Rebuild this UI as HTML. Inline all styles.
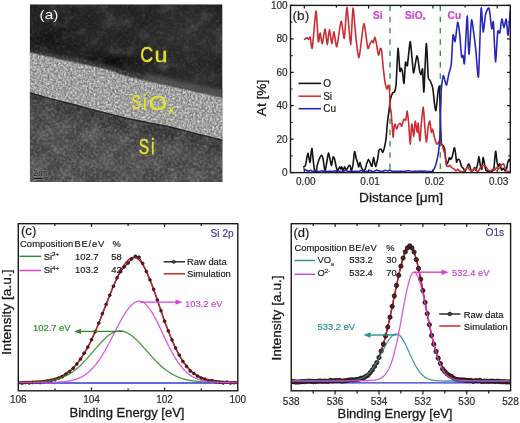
<!DOCTYPE html>
<html><head><meta charset="utf-8"><title>Figure</title>
<style>
html,body{margin:0;padding:0;background:#fff;}
body{width:520px;height:423px;overflow:hidden;}
svg{display:block;filter:blur(0.35px);}
text.st,.st text{transform-box:fill-box;transform-origin:50% 65%;transform:scaleY(1.04);}
text.tk{transform-box:fill-box;transform-origin:50% 65%;transform:scaleY(1.08);}
</style></head><body>
<svg width="520" height="423" viewBox="0 0 520 423">
<rect width="520" height="423" fill="#fff"/>
<defs>
<clipPath id="temclip"><rect x="29.8" y="4.3" width="192.7" height="177.6"/></clipPath>
<filter id="spW" x="0" y="0" width="1" height="1" filterUnits="objectBoundingBox"><feTurbulence type="fractalNoise" baseFrequency="0.48" numOctaves="2" seed="3"/><feColorMatrix type="matrix" values="0 0 0 0 1  0 0 0 0 1  0 0 0 0 1  2.6 0 0 0 -1.2"/><feGaussianBlur stdDeviation="0.4"/></filter>
<filter id="spK" x="0" y="0" width="1" height="1" filterUnits="objectBoundingBox"><feTurbulence type="fractalNoise" baseFrequency="0.48" numOctaves="2" seed="3"/><feColorMatrix type="matrix" values="0 0 0 0 0  0 0 0 0 0  0 0 0 0 0  -2.6 0 0 0 1.2"/><feGaussianBlur stdDeviation="0.4"/></filter>
<filter id="lowW" x="0" y="0" width="1" height="1" filterUnits="objectBoundingBox"><feTurbulence type="fractalNoise" baseFrequency="0.07" numOctaves="3" seed="11"/><feColorMatrix type="matrix" values="0 0 0 0 1  0 0 0 0 1  0 0 0 0 1  1.6 0 0 0 -0.78"/></filter>
<filter id="lowK" x="0" y="0" width="1" height="1" filterUnits="objectBoundingBox"><feTurbulence type="fractalNoise" baseFrequency="0.07" numOctaves="3" seed="11"/><feColorMatrix type="matrix" values="0 0 0 0 0  0 0 0 0 0  0 0 0 0 0  -1.6 0 0 0 0.78"/></filter>
<filter id="midW" x="0" y="0" width="1" height="1" filterUnits="objectBoundingBox"><feTurbulence type="fractalNoise" baseFrequency="0.35" numOctaves="2" seed="21"/><feColorMatrix type="matrix" values="0 0 0 0 1  0 0 0 0 1  0 0 0 0 1  1.4 0 0 0 -0.66"/></filter>
<filter id="midK" x="0" y="0" width="1" height="1" filterUnits="objectBoundingBox"><feTurbulence type="fractalNoise" baseFrequency="0.35" numOctaves="2" seed="21"/><feColorMatrix type="matrix" values="0 0 0 0 0  0 0 0 0 0  0 0 0 0 0  -1.4 0 0 0 0.74"/></filter>
<filter id="blur1" x="-0.2" y="-0.5" width="1.4" height="2"><feGaussianBlur stdDeviation="1.5"/></filter>
<filter id="blur2" x="-0.2" y="-0.5" width="1.4" height="2"><feGaussianBlur stdDeviation="2"/></filter>
<filter id="blur4" x="-0.2" y="-0.5" width="1.4" height="2"><feGaussianBlur stdDeviation="4"/></filter>
<radialGradient id="cuDark" cx="0.5" cy="0.5" r="0.5"><stop offset="0" stop-color="#080808" stop-opacity="0.85"/><stop offset="1" stop-color="#080808" stop-opacity="0"/></radialGradient>
<radialGradient id="cuLight" cx="0.5" cy="0.5" r="0.5"><stop offset="0" stop-color="#3a3a3a" stop-opacity="0.7"/><stop offset="1" stop-color="#3a3a3a" stop-opacity="0"/></radialGradient>
</defs>
<clipPath id="bandclip"><polygon points="29.5,51.8 60,58.8 90,65.2 110,69.8 125,75.2 145,80 170,85.6 195,91.2 222.5,97.2 222.5,139.8 192.9,132.4 169,126.3 146.8,122 127.8,118.1 108.9,113.4 90,108.6 75.3,104.5 51.6,98.6 29.5,92.2"/></clipPath>
<clipPath id="siclip"><polygon points="29.5,92.2 51.6,98.6 75.3,104.5 90,108.6 108.9,113.4 127.8,118.1 146.8,122 169,126.3 192.9,132.4 222.5,139.8 222.5,181.9 29.8,181.9"/></clipPath>
<clipPath id="cuclip"><polygon points="29.8,4.3 222.5,4.3 222.5,97.2 195,91.2 170,85.6 145,80 125,75.2 110,69.8 90,65.2 60,58.8 29.5,51.8"/></clipPath>
<g clip-path="url(#temclip)">
<rect x="29.8" y="4.3" width="192.7" height="177.6" fill="#232323"/>
<ellipse cx="185" cy="35" rx="55" ry="40" fill="url(#cuLight)"/>
<ellipse cx="200" cy="80" rx="35" ry="14" fill="url(#cuLight)"/>
<ellipse cx="108" cy="62" rx="34" ry="13" fill="url(#cuDark)"/>
<ellipse cx="48" cy="40" rx="38" ry="22" fill="url(#cuDark)" opacity="0.55"/>
<ellipse cx="112" cy="26" rx="30" ry="24" fill="url(#cuLight)" opacity="0.45"/>
<g clip-path="url(#cuclip)" opacity="0.2"><rect x="29.8" y="4.3" width="192.7" height="177.6" filter="url(#lowW)"/><rect x="29.8" y="4.3" width="192.7" height="177.6" filter="url(#lowK)"/></g>
<g clip-path="url(#cuclip)" opacity="0.18"><rect x="29.8" y="4.3" width="192.7" height="177.6" filter="url(#midW)"/></g>
<polygon points="29.5,48.8 60,55.1 90,60.8 110,64.9 125,70 145,74.3 170,79.3 195,84.3 222.5,89.7 222.5,92.7 195,87.1 170,81.8 145,76.6 125,72.1 110,66.9 90,62.6 60,56.6 29.5,50" fill="#2e2e2e" filter="url(#blur1)"/>
<polygon points="29.5,50 60,56.6 90,62.6 110,66.9 125,72.1 145,76.6 170,81.8 195,87.1 222.5,92.7 222.5,95 195,89.2 170,83.8 145,78.3 125,73.7 110,68.4 90,63.9 60,57.7 29.5,50.9" fill="#3c3c3c" filter="url(#blur1)"/>
<polygon points="29.5,50.9 60,57.7 90,63.9 110,68.4 125,73.7 145,78.3 170,83.8 195,89.2 222.5,95 222.5,97.7 195,91.7 170,86 145,80.4 125,75.5 110,70.1 90,65.5 60,59 29.5,52" fill="#4c4c4c" filter="url(#blur1)"/>
<clipPath id="transclip"><polygon points="29.5,48.8 60,55.1 90,60.8 110,64.9 125,70 145,74.3 170,79.3 195,84.3 222.5,89.7 222.5,97.7 195,91.7 170,86 145,80.4 125,75.5 110,70.1 90,65.5 60,59 29.5,52"/></clipPath>
<g clip-path="url(#transclip)" opacity="0.2"><rect x="29.8" y="4.3" width="192.7" height="177.6" filter="url(#spW)"/></g>
<polygon points="145,73 170,78.6 195,84.2 222.5,90.2 222.5,98.2 195,92.2 170,86.6 145,81" fill="#565656" opacity="0.8" filter="url(#blur2)"/>
<polygon points="29.5,92.2 51.6,98.6 75.3,104.5 90,108.6 108.9,113.4 127.8,118.1 146.8,122 169,126.3 192.9,132.4 222.5,139.8 222.5,181.9 29.8,181.9" fill="#515151"/>
<g clip-path="url(#siclip)">
<polygon points="29.5,93.2 51.6,99.6 75.3,105.5 90,109.6 108.9,114.4 127.8,119.1 146.8,123 169,127.3 192.9,133.4 222.5,140.8 222.5,151.8 192.9,144.4 169,138.3 146.8,134 127.8,130.1 108.9,125.4 90,120.6 75.3,116.5 51.6,110.6 29.5,104.2" fill="#2a2a2a" opacity="0.6" filter="url(#blur4)"/>
<g opacity="0.22"><rect x="29.8" y="4.3" width="192.7" height="177.6" filter="url(#lowW)"/><rect x="29.8" y="4.3" width="192.7" height="177.6" filter="url(#lowK)"/></g>
<g opacity="0.35"><rect x="29.8" y="4.3" width="192.7" height="177.6" filter="url(#midW)"/><rect x="29.8" y="4.3" width="192.7" height="177.6" filter="url(#midK)"/></g>
</g>
<polygon points="29.5,51.8 60,58.8 90,65.2 110,69.8 125,75.2 145,80 170,85.6 195,91.2 222.5,97.2 222.5,139.8 192.9,132.4 169,126.3 146.8,122 127.8,118.1 108.9,113.4 90,108.6 75.3,104.5 51.6,98.6 29.5,92.2" fill="#9a9a9a"/>
<g clip-path="url(#bandclip)"><rect x="29.8" y="4.3" width="192.7" height="177.6" filter="url(#spW)" opacity="0.7"/><rect x="29.8" y="4.3" width="192.7" height="177.6" filter="url(#spK)" opacity="0.35"/></g>
<polyline points="29.5,92.7 51.6,99.1 75.3,105 90,109.1 108.9,113.9 127.8,118.6 146.8,122.5 169,126.8 192.9,132.9 222.5,140.3" fill="none" stroke="#1e1e1e" stroke-width="1.4" opacity="0.85"/>
<polyline points="29.5,52.1 60,59.1 90,65.5 110,70.1 125,75.5 145,80.3 170,85.9 195,91.5 222.5,97.5" fill="none" stroke="#3a3a3a" stroke-width="1.2" opacity="0.5"/>
</g>
<text transform="translate(39.6,18.8) scale(1.1,0.94)" font-size="14" fill="#f2f2f2" stroke="none" font-family="Liberation Sans, Arial, sans-serif">(a)</text>
<text transform="translate(140.2,61.59) scale(0.8543,1.0129)" font-size="21" fill="#e4e22a" stroke="#e4e22a" stroke-width="0.35" font-family="Liberation Sans, Arial, sans-serif">C</text>
<text transform="translate(154.49,61.59) scale(1.1090,0.9967)" font-size="21" fill="#e4e22a" stroke="#e4e22a" stroke-width="0.35" font-family="Liberation Sans, Arial, sans-serif">u</text>
<text transform="translate(131.54,109.4) scale(0.6957,0.9457)" font-size="21" fill="#e4e22a" stroke="#e4e22a" stroke-width="0.35" font-family="Liberation Sans, Arial, sans-serif">S</text>
<text transform="translate(143.09,110.1) scale(0.7410,1.0638)" font-size="21" fill="#e4e22a" stroke="#e4e22a" stroke-width="0.35" font-family="Liberation Sans, Arial, sans-serif">i</text>
<text transform="translate(149.06,109.7) scale(1.0986,0.9590)" font-size="21" fill="#e4e22a" stroke="#e4e22a" stroke-width="0.35" font-family="Liberation Sans, Arial, sans-serif">O</text>
<text transform="translate(168.2,114.4) scale(0.6190,0.6190)" font-size="21" fill="#e4e22a" stroke="#e4e22a" stroke-width="0.35" font-family="Liberation Sans, Arial, sans-serif">x</text>
<text transform="translate(138.7,154.18) scale(0.7452,1.0262)" font-size="21" fill="#e4e22a" stroke="#e4e22a" stroke-width="0.35" font-family="Liberation Sans, Arial, sans-serif">S</text>
<text transform="translate(150.89,154.4) scale(0.7410,1.0376)" font-size="21" fill="#e4e22a" stroke="#e4e22a" stroke-width="0.35" font-family="Liberation Sans, Arial, sans-serif">i</text>
<line x1="33.6" y1="178.4" x2="42.8" y2="178.4" stroke="#bbb" stroke-width="2.6" opacity="0.6"/>
<line x1="33.6" y1="178.4" x2="42.8" y2="178.4" stroke="#111" stroke-width="1.4"/>
<text transform="translate(33.4,176.4) scale(0.85,1.15)" font-size="7.6" fill="#1a1a1a" stroke="#aaa" stroke-width="1.2" stroke-opacity="0.5" paint-order="stroke" font-family="Liberation Sans, Arial, sans-serif">2 nm</text>
<defs><clipPath id="bclip"><rect x="290.5" y="4.4" width="219.8" height="168.2"/></clipPath></defs>
<line x1="390.0" y1="5.4" x2="390.0" y2="172.6" stroke="#3f9248" stroke-width="1.4" stroke-dasharray="5.5 5.8"/>
<line x1="440.3" y1="5.4" x2="440.3" y2="172.6" stroke="#3f9248" stroke-width="1.4" stroke-dasharray="5.5 5.8"/>
<g clip-path="url(#bclip)" fill="none" stroke-linejoin="round" stroke-linecap="round">
<path d="M303.8,166.9C304,166.7 305,166.5 305.4,165.4C305.8,164.3 306.6,159.1 306.9,157.7C307.2,156.3 307.8,153.1 308,153.1C308.2,153.1 308.7,156.6 308.9,157.7C309.1,158.8 309.7,162.8 310,162.3C310.3,161.8 310.9,154.7 311.1,153.1C311.3,151.5 311.8,147.8 312,148.5C312.2,149.2 312.8,156.6 313.1,159.2C313.4,161.8 314.2,169.4 314.6,170.8C315,172.2 315.9,172.1 316.2,171.5C316.5,170.9 316.8,166.8 317.2,165.4C317.6,164 318.7,160.4 319.2,159.2C319.7,158 321,155.4 321.5,155.4C322,155.4 322.7,157.4 323.1,159.2C323.5,161 324.5,170.3 324.9,170.8C325.3,171.3 326.1,165.9 326.5,163.8C326.9,161.7 328.1,153.6 328.5,153.1C328.9,152.6 329.6,157.8 330,159.2C330.4,160.6 331.1,165.7 331.5,165.4C331.9,165.1 332.7,157.6 333.1,156.9C333.5,156.2 334.2,158 334.6,159.2C335,160.4 335.8,165.5 336.2,166.9C336.6,168.3 337.3,170.8 337.7,170.8C338.1,170.8 339.3,167.1 339.7,166.9C340.1,166.7 340.6,169.2 340.8,169.2C341,169.2 341.5,166.7 341.8,166.9C342.1,167.1 342.8,170.8 343.1,170.8C343.4,170.8 344.2,167 344.6,166.9C345,166.8 345.7,170.1 346.2,170C346.7,169.9 348.1,166.7 348.5,166.2C348.9,165.7 349.6,164.9 350,165.4C350.4,165.9 351.1,171 351.5,170.8C351.9,170.6 352.7,166.1 353.1,163.8C353.5,161.5 354.2,152.1 354.6,151.5C355,150.9 355.8,157.1 356.2,158.5C356.6,159.9 357.4,162.1 357.7,163.1C358,164.1 358.5,167 358.8,166.9C359.1,166.8 359.7,162.3 360,162.3C360.3,162.3 360.9,166.1 361.2,166.9C361.5,167.7 362,168.7 362.3,169.2C362.6,169.7 363.4,170.9 363.8,170.8C364.2,170.7 365,169.4 365.4,168.5C365.8,167.6 366.5,164.2 366.9,163.1C367.3,162 368.1,159.3 368.5,159.2C368.9,159.1 369.6,161.6 370,162.4C370.4,163.2 371.6,167 372,166.4C372.4,165.8 373.2,157.3 373.6,157.3C374,157.3 375.1,166.2 375.6,166.4C376.1,166.6 377.2,161.2 377.6,159.3C378,157.4 378.6,151.5 379,150.3C379.4,149.1 380.7,149.1 381.1,149.3C381.5,149.5 382.3,152.5 382.7,152.3C383.1,152.1 384.1,148.9 384.5,147.3C384.9,145.7 385.7,141.4 386.1,138.2C386.5,135 387.3,123.5 387.7,120.2C388.1,116.9 388.8,112.5 389.1,110.1C389.4,107.7 390,101.4 390.4,99.4C390.8,97.4 392.2,93.7 392.7,92.8C393.2,91.9 394.2,92.8 394.6,91.8C395,90.8 395.7,89.4 396.1,84.3C396.5,79.2 397.6,50 398,48.4C398.4,46.8 399.5,68.7 399.9,71C400.3,73.3 400.9,68.1 401.2,68.2C401.5,68.3 402.2,70.2 402.5,72C402.8,73.8 403.6,84.4 404,83.3C404.4,82.2 405.1,64.6 405.5,62.5C405.9,60.4 406.9,67.8 407.4,65.4C407.9,63 409.6,42.6 410.1,41.7C410.6,40.8 411.6,54.2 412,57.8C412.4,61.4 413.1,72.2 413.5,72.9C413.9,73.6 415,65.5 415.4,63.5C415.8,61.5 416.6,56.2 416.9,55.9C417.2,55.6 417.9,58.9 418.2,60.6C418.5,62.3 419.2,68.4 419.5,70.1C419.8,71.8 420.6,74.9 421,74.8C421.4,74.7 422.3,67.1 422.6,69.1C422.9,71.1 423.5,94.8 423.9,91.8C424.3,88.8 425.8,45.4 426.3,43.6C426.8,41.8 427.8,72.4 428.2,76.7C428.6,81 429.7,79.5 430.1,80.5C430.5,81.5 431.6,83.9 432,85.2C432.4,86.5 432.9,89.1 433.2,91.3C433.5,93.5 434.2,101.8 434.5,104C434.8,106.2 435.6,111.9 436,110.4C436.4,108.9 437.7,94 438.1,91.3C438.5,88.6 439.4,84.5 439.6,87C439.8,89.5 440,107.1 440.2,112.6C440.4,118.1 440.8,130.2 440.9,133.8C441,137.4 441.1,142 441.3,143.4C441.5,144.8 442.6,144.9 443,145.5C443.4,146.1 444.2,147.5 444.5,148.7C444.8,149.9 445.1,154 445.3,155.8C445.5,157.6 446.2,163.1 446.5,163.8C446.8,164.5 447.7,162.8 448,162.1C448.3,161.4 449.1,157.9 449.4,157.6C449.7,157.3 450.3,159.6 450.7,159.4C451.1,159.2 452.1,157.2 452.5,155.8C452.9,154.4 453.9,148 454.3,147.7C454.7,147.4 455.2,151.4 455.5,153.1C455.8,154.8 456.3,161.4 456.6,162.1C456.9,162.8 457.5,159.6 457.9,159.4C458.3,159.2 459.3,159.5 459.7,160.3C460.1,161.1 461.1,165.6 461.5,166.5C461.9,167.4 462.9,167.8 463.3,168.3C463.7,168.8 464.7,171.1 465.1,171C465.5,170.9 466.5,168.2 466.9,167.4C467.3,166.6 468.3,163.9 468.7,163.8C469.1,163.7 469.6,165.7 469.9,166.5C470.2,167.3 471,170.6 471.4,171C471.8,171.4 472.8,170.5 473.2,170.1C473.6,169.7 474.3,167.4 474.6,167.4C474.9,167.4 475.5,170.5 475.9,170.1C476.3,169.7 477.3,165.4 477.7,163.8C478.1,162.2 478.6,156.5 478.9,156.7C479.2,156.9 480.1,164.1 480.4,165.6C480.7,167.1 481.5,170.1 481.8,169.2C482.1,168.3 482.8,158.3 483.1,157.6C483.4,156.9 484,161.4 484.3,162.9C484.6,164.4 485.4,169.2 485.8,170.1C486.2,171 487.2,170.8 487.6,171C488,171.2 488.9,171.9 489.4,171.9C489.9,171.9 491.6,171.3 492.1,171C492.6,170.7 493.4,171.5 493.8,169.2C494.2,166.9 495.2,152.2 495.6,151.3C496,150.4 496.6,159.4 496.9,161.2C497.2,163 498,166.2 498.3,166.5C498.6,166.8 499.4,163.4 499.8,163.8C500.2,164.2 501.2,169.6 501.6,170.1C502,170.6 503,168.2 503.4,168.3C503.8,168.4 504.8,170.9 505.2,171C505.6,171.1 506.1,170.1 506.4,169.2C506.7,168.3 507.4,164 507.7,162.9C508,161.8 508.8,159.6 509.1,159.4C509.4,159.2 509.9,161 510,161.2" stroke="#141414" stroke-width="1.6"/>
<path d="M304.5,39.4C304.8,39.2 306.5,37.9 307,37.9C307.5,37.9 308.3,39.5 308.7,39.4C309.1,39.3 309.8,36.2 310.2,37.2C310.6,38.2 311.6,50.9 312.3,47.9C313,44.9 315.3,11.8 316,11.1C316.7,10.4 317.8,38.9 318.3,41.5C318.8,44.1 319.7,32.8 320.2,33C320.7,33.2 321.7,44.1 322.3,43.6C322.9,43.1 324.5,28.6 325.1,28.7C325.7,28.8 326.7,44.6 327.2,44.7C327.7,44.8 328.9,29.9 329.4,29.8C329.9,29.7 331.4,43.4 331.9,43.6C332.4,43.8 333.4,31.5 334,31.9C334.6,32.3 336,48 336.8,46.8C337.6,45.6 340.2,22.3 341.1,21.3C342,20.3 343.6,39.9 344.3,38.3C345,36.7 346.3,6.7 347,7.4C347.7,8.1 349.9,44.6 350.6,44.7C351.3,44.8 352.4,8.8 353,8.1C353.6,7.4 355.3,32.5 356,38.3C356.7,44.1 358.2,59.1 359.1,57.4C360,55.7 362.8,24.9 363.8,23.8C364.8,22.7 367,45.6 367.7,47.9C368.4,50.2 369.5,44.4 370,43.6C370.5,42.8 371.5,40.9 371.9,40.8C372.3,40.7 373.1,43.1 373.4,42.7C373.7,42.3 374.4,37 374.7,37C375,37 375.8,40.2 376.2,42.3C376.6,44.4 378,54.3 378.5,55C379,55.7 380,48.8 380.4,48.4C380.8,48 381.4,49 381.7,51.2C382,53.4 382.8,63.7 383.2,67.3C383.6,70.9 384.7,79.9 385.1,82.4C385.5,84.9 386.6,88.7 387,89C387.4,89.3 388,85 388.3,85.2C388.6,85.4 389.3,88.5 389.5,90.9C389.7,93.3 389.9,103.6 390.1,106.1C390.3,108.6 390.9,110 391.1,112.1C391.3,114.2 391.9,121.3 392.1,124.2C392.3,127.1 392.9,136.8 393.1,137.2C393.3,137.5 393.9,128.7 394.1,127.2C394.3,125.7 394.8,124 395.1,124.2C395.4,124.4 396.1,129.1 396.5,129.2C396.9,129.3 397.7,125.9 398.1,125.2C398.5,124.5 399.8,123.1 400.2,123.2C400.6,123.3 401.4,126.7 401.8,126.2C402.2,125.7 403.3,119.8 403.8,119.1C404.3,118.4 405.4,121.1 405.8,120.2C406.2,119.3 406.9,110.9 407.2,111.1C407.5,111.3 408.2,118.3 408.6,122.2C409,126.1 409.8,144.1 410.2,144.3C410.6,144.5 411.4,125.1 411.8,124.2C412.2,123.3 413.4,136.5 413.8,136.2C414.2,135.8 414.8,121.7 415.2,121.2C415.6,120.7 416.8,132 417.2,132.2C417.6,132.4 417.9,122.1 418.2,123.2C418.5,124.3 419.4,141.2 419.8,141.3C420.2,141.4 420.9,128.2 421.3,124.2C421.7,120.2 422.9,107 423.3,107.1C423.7,107.2 424.3,121.1 424.7,125.2C425.1,129.3 425.9,142.2 426.3,142.3C426.7,142.4 427.9,128.7 428.3,126.2C428.7,123.7 429.5,120.5 429.9,121.2C430.2,121.9 431,131.3 431.3,132.2C431.6,133.1 432.4,128.8 432.7,129.2C433,129.5 433.5,133.7 433.9,135.2C434.3,136.7 435.5,141.2 435.9,142.3C436.3,143.4 436.9,144.4 437.3,144.3C437.7,144.2 438.8,141.4 439.3,141.3C439.8,141.2 441,142.6 441.4,143.3C441.8,144 442.5,146.4 442.8,147.3C443.1,148.2 443.7,150.2 444,151.3C444.3,152.4 445.1,154.7 445.4,156.3C445.7,157.9 446,164.2 446.4,165.4C446.8,166.6 448,166.4 448.4,166.4C448.8,166.4 449.6,165.3 450,165.4C450.4,165.5 451.1,167 451.6,167.4C452.1,167.8 453.8,168.8 454.3,169.2C454.8,169.6 455.7,171 456.1,171C456.5,171 457.5,169.2 457.9,169.2C458.3,169.2 459.2,170.7 459.7,171C460.2,171.3 461.7,172.1 462.4,171.9C463.1,171.7 465.4,169.8 466,169.2C466.6,168.6 467.4,166.5 467.8,166.5C468.2,166.5 468.8,168.7 469.2,169.2C469.6,169.7 470.5,170.9 471,171C471.5,171.1 472.7,170.4 473.2,170.1C473.7,169.8 474.8,168.1 475.3,168.3C475.8,168.5 477.1,172 477.7,171.9C478.3,171.8 479.8,168.1 480.4,167.4C481,166.7 482.5,165.7 483.1,165.6C483.7,165.5 485.3,166.1 485.8,166.5C486.3,166.9 487.1,168.7 487.6,169.2C488.1,169.7 489.7,171 490.3,171C490.9,171 492.5,169.3 493,169.2C493.5,169.1 494.3,170.3 494.7,170.1C495.1,169.9 496.1,167.5 496.5,167.4C496.9,167.3 497.9,169.3 498.3,169.2C498.7,169.1 499.7,167 500.1,166.5C500.5,166 501.5,165 501.9,164.7C502.3,164.4 503.3,163.4 503.7,163.8C504.1,164.2 504.8,167.5 505.2,168.3C505.6,169.1 506.5,170.6 507,171C507.5,171.4 508.9,171.5 509.1,171.6" stroke="#cc2c34" stroke-width="1.6"/>
<path d="M304,168.8C304.3,169 305.7,170 306.2,170.3C306.7,170.6 307.9,171.2 308.4,171.2C308.9,171.2 310.1,170.2 310.6,170.2C311.1,170.3 312.3,171.5 312.8,171.5C313.3,171.5 314.5,170.3 315,170.2C315.5,170.2 316.7,170.8 317.2,170.9C317.7,171.1 318.9,171.5 319.4,171.5C319.9,171.5 321.1,170.8 321.6,170.8C322.1,170.8 323.3,171.2 323.8,171.3C324.3,171.4 325.5,171.3 326,171.4C326.5,171.4 327.7,171.5 328.2,171.4C328.7,171.4 329.9,171.1 330.4,171.2C330.9,171.2 332.1,171.5 332.6,171.5C333.1,171.5 334.3,170.9 334.8,170.8C335.3,170.8 336.5,171.3 337,171.4C337.5,171.4 338.7,171.2 339.2,171.2C339.7,171.2 340.9,171.5 341.4,171.6C341.9,171.6 343.1,171.5 343.6,171.4C344.1,171.2 345.3,170.3 345.8,170.3C346.3,170.3 347.5,171.5 348,171.6C348.5,171.7 349.7,171.3 350.2,171.2C350.7,171.2 351.9,171.5 352.4,171.5C352.9,171.5 354.1,171.3 354.6,171.3C355.1,171.3 356.3,171.4 356.8,171.4C357.3,171.4 358.5,171.5 359,171.4C359.5,171.3 360.7,170.4 361.2,170.4C361.7,170.4 362.9,171.5 363.4,171.6C363.9,171.7 365.1,171.5 365.6,171.5C366.1,171.4 367.3,171.3 367.8,171.2C368.3,171.1 369.5,170.4 370,170.4C370.5,170.4 371.7,171.4 372.2,171.5C372.7,171.6 373.9,171.4 374.4,171.2C374.9,171.1 376.1,170.2 376.6,170.1C377.1,170.1 378.3,170.6 378.8,170.7C379.3,170.9 380.5,171.3 381,171.4C381.5,171.4 382.7,171.3 383.2,171.2C383.7,171.1 384.9,170.2 385.4,170.2C385.9,170.2 387.1,171 387.6,171C388.1,171 389.3,170.1 389.8,170.1C390.3,170.2 391.5,171.1 392,171.2C392.5,171.3 393.7,171.3 394.2,171.3C394.7,171.3 395.9,171.4 396.4,171.4C396.9,171.4 398.1,171.3 398.6,171.3C399.1,171.3 400.3,171.5 400.8,171.5C401.3,171.5 402.5,171.4 403,171.4C403.5,171.4 404.7,171.4 405.2,171.3C405.7,171.3 406.9,170.9 407.4,170.8C407.9,170.8 409.1,170.6 409.6,170.7C410.1,170.8 411.3,171.5 411.8,171.6C412.3,171.7 413.5,171.4 414,171.3C414.5,171.3 415.7,171.2 416.2,171.2C416.7,171.2 417.9,171.3 418.4,171.3C418.9,171.3 420.1,171 420.6,171C421.1,171 422.3,171.3 422.8,171.3C423.3,171.3 424.5,170.9 425,171C425.5,171 426.7,171.5 427.2,171.5C427.7,171.6 428.9,171.4 429.4,171.4C429.9,171.4 431.3,171.4 431.6,171.5C431.9,171.5 431.7,172.2 432,171.8C432.3,171.4 434,169.4 434.5,168.3C435,167.2 436.1,163.6 436.5,162C436.9,160.4 437.8,156.9 438.1,155C438.4,153.1 439,148.2 439.2,146C439.4,143.8 439.8,139.3 439.9,136C440,132.7 440.3,122.2 440.4,118C440.5,113.8 440.9,103.5 441,100C441.1,96.5 441.2,90.5 441.4,88C441.6,85.5 442.3,80.5 442.5,79C442.7,77.5 443.2,75.3 443.5,75.5C443.8,75.7 444.6,79.9 445,81C445.4,82.1 446.2,85.8 446.6,85C447,84.2 448.2,77 448.7,74.5C449.2,72 450.8,68.4 451.3,63.8C451.8,59.2 452.6,37.7 453,35.1C453.4,32.5 454.6,43 455.1,41.5C455.6,40 457.2,23 457.7,22.3C458.2,21.6 459.4,31.1 459.8,35.1C460.2,39.1 461.1,54 461.5,56.4C461.9,58.8 462.6,54.6 463,55.3C463.4,56 464,67.4 464.5,62.8C465,58.2 466.7,17 467.2,16C467.7,15 468.4,53.8 468.9,54.3C469.4,54.8 471,22.8 471.5,20.2C472,17.6 473.1,28.6 473.6,31.9C474.1,35.2 475.1,43.7 475.7,48.9C476.3,54.1 477.9,81.3 478.5,76.6C479.1,71.9 480.6,13.7 481.1,8.5C481.6,3.3 482.7,31.3 483.2,31.9C483.7,32.5 485,16.5 485.7,13.8C486.4,11.1 488.4,6.8 489.1,8.5C489.8,10.2 491.2,27.1 491.7,28.7C492.2,30.3 493,18.5 493.4,22.3C493.8,26.1 495,60.6 495.5,61.7C496,62.8 497.2,35.2 497.7,31.9C498.2,28.6 499.3,34.5 499.8,33C500.3,31.5 501.4,19.7 501.9,19.1C502.4,18.5 503.5,27.7 504,27.7C504.5,27.7 505.7,18.2 506.2,19.1C506.7,20 507.6,36.1 508.1,35.1C508.6,34.1 510,13.5 510.3,10.6" stroke="#2828b8" stroke-width="1.6"/>
</g>
<rect x="290.5" y="5.4" width="219.8" height="167.2" fill="none" stroke="#1a1a1a" stroke-width="1.4"/>
<path d="M290.5 172.6h3.2M510.3 172.6h-3.2M290.5 155.9h2M510.3 155.9h-2M290.5 139.2h3.2M510.3 139.2h-3.2M290.5 122.4h2M510.3 122.4h-2M290.5 105.7h3.2M510.3 105.7h-3.2M290.5 89h2M510.3 89h-2M290.5 72.3h3.2M510.3 72.3h-3.2M290.5 55.6h2M510.3 55.6h-2M290.5 38.8h3.2M510.3 38.8h-3.2M290.5 22.1h2M510.3 22.1h-2M290.5 5.4h3.2M510.3 5.4h-3.2M304.3 5.4v3.2M304.3 172.6v-3.2M368.6 5.4v3.2M368.6 172.6v-3.2M432.9 5.4v3.2M432.9 172.6v-3.2M497.2 5.4v3.2M497.2 172.6v-3.2M336.4 5.4v2M336.4 172.6v-2M400.8 5.4v2M400.8 172.6v-2M465.1 5.4v2M465.1 172.6v-2" stroke="#1a1a1a" stroke-width="1.2" fill="none"/>
<text class="tk" x="287.6" y="176.1" font-size="10.0" fill="#2a2a2a" text-anchor="end" font-family="Liberation Sans, Arial, sans-serif" stroke="#2a2a2a" stroke-width="0.18">0</text>
<text class="tk" x="287.6" y="142.7" font-size="10.0" fill="#2a2a2a" text-anchor="end" font-family="Liberation Sans, Arial, sans-serif" stroke="#2a2a2a" stroke-width="0.18">20</text>
<text class="tk" x="287.6" y="109.2" font-size="10.0" fill="#2a2a2a" text-anchor="end" font-family="Liberation Sans, Arial, sans-serif" stroke="#2a2a2a" stroke-width="0.18">40</text>
<text class="tk" x="287.6" y="75.8" font-size="10.0" fill="#2a2a2a" text-anchor="end" font-family="Liberation Sans, Arial, sans-serif" stroke="#2a2a2a" stroke-width="0.18">60</text>
<text class="tk" x="287.6" y="42.3" font-size="10.0" fill="#2a2a2a" text-anchor="end" font-family="Liberation Sans, Arial, sans-serif" stroke="#2a2a2a" stroke-width="0.18">80</text>
<text class="tk" x="287.6" y="8.9" font-size="10.0" fill="#2a2a2a" text-anchor="end" font-family="Liberation Sans, Arial, sans-serif" stroke="#2a2a2a" stroke-width="0.18">100</text>
<text class="tk" x="305.8" y="184.6" font-size="10.0" fill="#2a2a2a" text-anchor="middle" font-family="Liberation Sans, Arial, sans-serif" stroke="#2a2a2a" stroke-width="0.18">0.00</text>
<text class="tk" x="370.1" y="184.6" font-size="10.0" fill="#2a2a2a" text-anchor="middle" font-family="Liberation Sans, Arial, sans-serif" stroke="#2a2a2a" stroke-width="0.18">0.01</text>
<text class="tk" x="434.4" y="184.6" font-size="10.0" fill="#2a2a2a" text-anchor="middle" font-family="Liberation Sans, Arial, sans-serif" stroke="#2a2a2a" stroke-width="0.18">0.02</text>
<text class="tk" x="498.7" y="184.6" font-size="10.0" fill="#2a2a2a" text-anchor="middle" font-family="Liberation Sans, Arial, sans-serif" stroke="#2a2a2a" stroke-width="0.18">0.03</text>
<text x="401" y="201.5" font-size="13.7" fill="#1a1a1a" stroke="#1a1a1a" stroke-width="0.3" text-anchor="middle" font-family="Liberation Sans, Arial, sans-serif">Distance [μm]</text>
<text transform="translate(265.8,98) rotate(-90)" font-size="13.7" fill="#1a1a1a" stroke="#1a1a1a" stroke-width="0.3" text-anchor="middle" font-family="Liberation Sans, Arial, sans-serif">At [%]</text>
<text x="292.6" y="20.2" font-size="13.6" fill="#2a2a2a" font-family="Liberation Sans, Arial, sans-serif" stroke="#2a2a2a" stroke-width="0.18">(b)</text>
<g font-weight="bold" font-size="10.2" fill="#cc44cc" font-family="Liberation Sans, Arial, sans-serif" stroke="#cc44cc" stroke-width="0.18">
<text x="373" y="18.8">Si</text>
<text x="405" y="18.8">SiO<tspan font-size="5.5" dy="1.5">x</tspan></text>
<text x="447.6" y="18.8">Cu</text>
</g>
<line x1="298.5" y1="83.4" x2="321" y2="83.4" stroke="#141414" stroke-width="1.6"/>
<text class="st" x="323.2" y="87" font-size="10" fill="#1a1a1a" font-family="Liberation Sans, Arial, sans-serif" stroke="#1a1a1a" stroke-width="0.18">O</text>
<line x1="298.5" y1="96.2" x2="321" y2="96.2" stroke="#d83232" stroke-width="1.6"/>
<text class="st" x="323.2" y="99.8" font-size="10" fill="#1a1a1a" font-family="Liberation Sans, Arial, sans-serif" stroke="#1a1a1a" stroke-width="0.18">Si</text>
<line x1="298.5" y1="108.7" x2="321" y2="108.7" stroke="#2424c4" stroke-width="1.6"/>
<text class="st" x="323.2" y="112.3" font-size="10" fill="#1a1a1a" font-family="Liberation Sans, Arial, sans-serif" stroke="#1a1a1a" stroke-width="0.18">Cu</text>
<defs><clipPath id="cclip"><rect x="18.3" y="223.7" width="219.5" height="167.10000000000002"/></clipPath></defs>
<g clip-path="url(#cclip)" fill="none" stroke-linejoin="round">
<line x1="18.3" y1="383.0" x2="237.8" y2="383.0" stroke="#3434d8" stroke-width="1.3"/>
<polyline points="18.3,383.1 22,383.3 25.6,382.6 29.3,383 32.9,382.5 36.6,382.3 40.2,382.6 43.9,381.8 47.6,381.2 51.2,380.7 54.9,379.8 58.5,378.3 62.2,376.8 65.9,374.2 69.5,371.7 73.2,368.3 76.8,364 80.5,359.1 84.1,353.2 87.8,347.1 91.5,339.8 95.1,331.7 98.8,323.1 102.4,313.6 106.1,304.5 109.8,295.2 113.4,286.3 117.1,277.8 120.7,271.7 124.4,266.9 128.1,263.1 131.7,258.9 135.4,256.2 139,257.2 142.7,263.4 146.3,271.5 150,279.9 153.7,289.4 157.3,300 161,310.7 164.6,321.3 168.3,330.9 172,339.9 175.6,348 179.3,355.1 182.9,361.5 186.6,366.4 190.2,371 193.9,373.5 197.6,376.2 201.2,378.1 204.9,379.2 208.5,381.2 212.2,380.8 215.9,381.9 219.5,382.2 223.2,383 226.8,382.3 230.5,383.1 234.1,382.8 237.8,383" stroke="#1c1c1c" stroke-width="1.1"/>
<polyline points="18.3,381.9 18.8,381.9 19.3,381.8 19.8,381.8 20.3,381.8 20.8,381.8 21.3,381.8 21.8,381.8 22.3,381.8 22.8,381.8 23.3,381.8 23.8,381.8 24.3,381.7 24.8,381.7 25.3,381.7 25.8,381.7 26.3,381.7 26.8,381.7 27.3,381.7 27.8,381.6 28.3,381.6 28.8,381.6 29.3,381.6 29.8,381.6 30.3,381.6 30.8,381.5 31.3,381.5 31.8,381.5 32.3,381.5 32.8,381.5 33.3,381.4 33.8,381.4 34.3,381.4 34.8,381.4 35.3,381.3 35.8,381.3 36.3,381.3 36.8,381.2 37.3,381.2 37.8,381.2 38.3,381.1 38.8,381.1 39.3,381.1 39.8,381 40.3,381 40.8,380.9 41.3,380.9 41.8,380.8 42.3,380.8 42.8,380.7 43.3,380.7 43.8,380.6 44.3,380.6 44.8,380.5 45.3,380.4 45.8,380.4 46.3,380.3 46.8,380.2 47.3,380.1 47.8,380.1 48.3,380 48.8,379.9 49.3,379.8 49.8,379.7 50.3,379.6 50.8,379.5 51.3,379.4 51.8,379.3 52.3,379.2 52.8,379 53.3,378.9 53.8,378.8 54.3,378.7 54.8,378.5 55.3,378.4 55.8,378.2 56.3,378.1 56.8,377.9 57.3,377.7 57.8,377.6 58.3,377.4 58.8,377.2 59.3,377 59.8,376.8 60.3,376.6 60.8,376.3 61.3,376.1 61.8,375.9 62.3,375.6 62.8,375.4 63.3,375.1 63.8,374.9 64.3,374.6 64.8,374.3 65.3,374 65.8,373.7 66.3,373.4 66.8,373 67.3,372.7 67.8,372.3 68.3,372 68.8,371.6 69.3,371.2 69.8,370.8 70.3,370.4 70.8,370 71.3,369.6 71.8,369.1 72.3,368.7 72.8,368.2 73.3,367.7 73.8,367.2 74.3,366.7 74.8,366.2 75.3,365.6 75.8,365.1 76.3,364.5 76.8,363.9 77.3,363.3 77.8,362.7 78.3,362.1 78.8,361.5 79.3,360.8 79.8,360.1 80.3,359.4 80.8,358.7 81.3,358 81.8,357.3 82.3,356.5 82.8,355.8 83.3,355 83.8,354.2 84.3,353.3 84.8,352.5 85.3,351.7 85.8,350.8 86.3,349.9 86.8,349 87.3,348.1 87.8,347.2 88.3,346.2 88.8,345.3 89.3,344.3 89.8,343.3 90.3,342.3 90.8,341.3 91.3,340.2 91.8,339.2 92.3,338.1 92.8,337 93.3,335.9 93.8,334.8 94.3,333.7 94.8,332.6 95.3,331.4 95.8,330.3 96.3,329.1 96.8,327.9 97.3,326.7 97.8,325.5 98.3,324.3 98.8,323.1 99.3,321.8 99.8,320.6 100.3,319.3 100.8,318.1 101.3,316.8 101.8,315.6 102.3,314.3 102.8,313 103.3,311.7 103.8,310.4 104.3,309.1 104.8,307.9 105.3,306.6 105.8,305.3 106.3,304 106.8,302.7 107.3,301.4 107.8,300.1 108.3,298.8 108.8,297.5 109.3,296.3 109.8,295 110.3,293.7 110.8,292.5 111.3,291.2 111.8,290 112.3,288.7 112.8,287.5 113.3,286.3 113.8,285.1 114.3,284 114.8,282.8 115.3,281.6 115.8,280.5 116.3,279.4 116.8,278.3 117.3,277.2 117.8,276.2 118.3,275.1 118.8,274.1 119.3,273.1 119.8,272.1 120.3,271.2 120.8,270.3 121.3,269.4 121.8,268.5 122.3,267.7 122.8,266.9 123.3,266.1 123.8,265.3 124.3,264.6 124.8,263.9 125.3,263.3 125.8,262.6 126.3,262.1 126.8,261.5 127.3,261 127.8,260.5 128.3,260 128.8,259.6 129.3,259.2 129.8,258.9 130.3,258.6 130.8,258.3 131.3,258.1 131.8,257.9 132.3,257.7 132.8,257.6 133.3,257.5 133.8,257.5 134.3,257.5 134.8,257.6 135.3,257.6 135.8,257.8 136.3,258 136.8,258.2 137.3,258.5 137.8,258.9 138.3,259.2 138.8,259.7 139.3,260.1 139.8,260.7 140.3,261.2 140.8,261.8 141.3,262.5 141.8,263.2 142.3,263.9 142.8,264.7 143.3,265.5 143.8,266.4 144.3,267.3 144.8,268.2 145.3,269.2 145.8,270.2 146.3,271.2 146.8,272.3 147.3,273.4 147.8,274.5 148.3,275.7 148.8,276.9 149.3,278.1 149.8,279.3 150.3,280.6 150.8,281.8 151.3,283.1 151.8,284.4 152.3,285.8 152.8,287.1 153.3,288.5 153.8,289.9 154.3,291.3 154.8,292.7 155.3,294.1 155.8,295.5 156.3,297 156.8,298.4 157.3,299.9 157.8,301.3 158.3,302.8 158.8,304.2 159.3,305.7 159.8,307.2 160.3,308.6 160.8,310.1 161.3,311.5 161.8,313 162.3,314.4 162.8,315.8 163.3,317.3 163.8,318.7 164.3,320.1 164.8,321.5 165.3,322.9 165.8,324.3 166.3,325.6 166.8,327 167.3,328.3 167.8,329.7 168.3,331 168.8,332.3 169.3,333.6 169.8,334.8 170.3,336.1 170.8,337.3 171.3,338.5 171.8,339.7 172.3,340.9 172.8,342 173.3,343.2 173.8,344.3 174.3,345.4 174.8,346.5 175.3,347.5 175.8,348.6 176.3,349.6 176.8,350.6 177.3,351.6 177.8,352.5 178.3,353.5 178.8,354.4 179.3,355.3 179.8,356.2 180.3,357 180.8,357.9 181.3,358.7 181.8,359.5 182.3,360.2 182.8,361 183.3,361.7 183.8,362.5 184.3,363.1 184.8,363.8 185.3,364.5 185.8,365.1 186.3,365.7 186.8,366.4 187.3,366.9 187.8,367.5 188.3,368.1 188.8,368.6 189.3,369.1 189.8,369.6 190.3,370.1 190.8,370.6 191.3,371 191.8,371.5 192.3,371.9 192.8,372.3 193.3,372.7 193.8,373.1 194.3,373.4 194.8,373.8 195.3,374.1 195.8,374.5 196.3,374.8 196.8,375.1 197.3,375.4 197.8,375.7 198.3,375.9 198.8,376.2 199.3,376.5 199.8,376.7 200.3,376.9 200.8,377.2 201.3,377.4 201.8,377.6 202.3,377.8 202.8,378 203.3,378.1 203.8,378.3 204.3,378.5 204.8,378.6 205.3,378.8 205.8,378.9 206.3,379.1 206.8,379.2 207.3,379.3 207.8,379.5 208.3,379.6 208.8,379.7 209.3,379.8 209.8,379.9 210.3,380 210.8,380.1 211.3,380.2 211.8,380.3 212.3,380.3 212.8,380.4 213.3,380.5 213.8,380.6 214.3,380.6 214.8,380.7 215.3,380.8 215.8,380.8 216.3,380.9 216.8,380.9 217.3,381 217.8,381 218.3,381.1 218.8,381.1 219.3,381.2 219.8,381.2 220.3,381.2 220.8,381.3 221.3,381.3 221.8,381.3 222.3,381.4 222.8,381.4 223.3,381.4 223.8,381.5 224.3,381.5 224.8,381.5 225.3,381.5 225.8,381.5 226.3,381.6 226.8,381.6 227.3,381.6 227.8,381.6 228.3,381.6 228.8,381.7 229.3,381.7 229.8,381.7 230.3,381.7 230.8,381.7 231.3,381.7 231.8,381.8 232.3,381.8 232.8,381.8 233.3,381.8 233.8,381.8 234.3,381.8 234.8,381.8 235.3,381.8 235.8,381.8 236.3,381.9 236.8,381.9 237.3,381.9 237.8,381.9 237.8,381.9" stroke="#c4242c" stroke-width="1.6" opacity="1"/>
<g fill="#5a1c1c" stroke="#141414" stroke-width="0.6">
<circle cx="18.3" cy="383.1" r="1.45"/>
<circle cx="22" cy="383.3" r="1.45"/>
<circle cx="25.6" cy="382.6" r="1.45"/>
<circle cx="29.3" cy="383" r="1.45"/>
<circle cx="32.9" cy="382.5" r="1.45"/>
<circle cx="36.6" cy="382.3" r="1.45"/>
<circle cx="40.2" cy="382.6" r="1.45"/>
<circle cx="43.9" cy="381.8" r="1.45"/>
<circle cx="47.6" cy="381.2" r="1.45"/>
<circle cx="51.2" cy="380.7" r="1.45"/>
<circle cx="54.9" cy="379.8" r="1.45"/>
<circle cx="58.5" cy="378.3" r="1.45"/>
<circle cx="62.2" cy="376.8" r="1.45"/>
<circle cx="65.9" cy="374.2" r="1.45"/>
<circle cx="69.5" cy="371.7" r="1.45"/>
<circle cx="73.2" cy="368.3" r="1.45"/>
<circle cx="76.8" cy="364" r="1.45"/>
<circle cx="80.5" cy="359.1" r="1.45"/>
<circle cx="84.1" cy="353.2" r="1.45"/>
<circle cx="87.8" cy="347.1" r="1.45"/>
<circle cx="91.5" cy="339.8" r="1.45"/>
<circle cx="95.1" cy="331.7" r="1.45"/>
<circle cx="98.8" cy="323.1" r="1.45"/>
<circle cx="102.4" cy="313.6" r="1.45"/>
<circle cx="106.1" cy="304.5" r="1.45"/>
<circle cx="109.8" cy="295.2" r="1.45"/>
<circle cx="113.4" cy="286.3" r="1.45"/>
<circle cx="117.1" cy="277.8" r="1.45"/>
<circle cx="120.7" cy="271.7" r="1.45"/>
<circle cx="124.4" cy="266.9" r="1.45"/>
<circle cx="128.1" cy="263.1" r="1.45"/>
<circle cx="131.7" cy="258.9" r="1.45"/>
<circle cx="135.4" cy="256.2" r="1.45"/>
<circle cx="139" cy="257.2" r="1.45"/>
<circle cx="142.7" cy="263.4" r="1.45"/>
<circle cx="146.3" cy="271.5" r="1.45"/>
<circle cx="150" cy="279.9" r="1.45"/>
<circle cx="153.7" cy="289.4" r="1.45"/>
<circle cx="157.3" cy="300" r="1.45"/>
<circle cx="161" cy="310.7" r="1.45"/>
<circle cx="164.6" cy="321.3" r="1.45"/>
<circle cx="168.3" cy="330.9" r="1.45"/>
<circle cx="172" cy="339.9" r="1.45"/>
<circle cx="175.6" cy="348" r="1.45"/>
<circle cx="179.3" cy="355.1" r="1.45"/>
<circle cx="182.9" cy="361.5" r="1.45"/>
<circle cx="186.6" cy="366.4" r="1.45"/>
<circle cx="190.2" cy="371" r="1.45"/>
<circle cx="193.9" cy="373.5" r="1.45"/>
<circle cx="197.6" cy="376.2" r="1.45"/>
<circle cx="201.2" cy="378.1" r="1.45"/>
<circle cx="204.9" cy="379.2" r="1.45"/>
<circle cx="208.5" cy="381.2" r="1.45"/>
<circle cx="212.2" cy="380.8" r="1.45"/>
<circle cx="215.9" cy="381.9" r="1.45"/>
<circle cx="219.5" cy="382.2" r="1.45"/>
<circle cx="223.2" cy="383" r="1.45"/>
<circle cx="226.8" cy="382.3" r="1.45"/>
<circle cx="230.5" cy="383.1" r="1.45"/>
<circle cx="234.1" cy="382.8" r="1.45"/>
<circle cx="237.8" cy="383" r="1.45"/>
</g>
<polyline points="18.3,382.4 18.8,382.4 19.3,382.4 19.8,382.4 20.3,382.4 20.8,382.4 21.3,382.4 21.8,382.4 22.3,382.4 22.8,382.3 23.3,382.3 23.8,382.3 24.3,382.3 24.8,382.3 25.3,382.3 25.8,382.3 26.3,382.3 26.8,382.3 27.3,382.3 27.8,382.3 28.3,382.3 28.8,382.2 29.3,382.2 29.8,382.2 30.3,382.2 30.8,382.2 31.3,382.2 31.8,382.2 32.3,382.2 32.8,382.1 33.3,382.1 33.8,382.1 34.3,382.1 34.8,382.1 35.3,382 35.8,382 36.3,382 36.8,382 37.3,382 37.8,381.9 38.3,381.9 38.8,381.9 39.3,381.8 39.8,381.8 40.3,381.8 40.8,381.7 41.3,381.7 41.8,381.7 42.3,381.6 42.8,381.6 43.3,381.5 43.8,381.5 44.3,381.4 44.8,381.4 45.3,381.3 45.8,381.3 46.3,381.2 46.8,381.2 47.3,381.1 47.8,381 48.3,381 48.8,380.9 49.3,380.8 49.8,380.7 50.3,380.7 50.8,380.6 51.3,380.5 51.8,380.4 52.3,380.3 52.8,380.2 53.3,380.1 53.8,380 54.3,379.9 54.8,379.8 55.3,379.6 55.8,379.5 56.3,379.4 56.8,379.3 57.3,379.1 57.8,379 58.3,378.8 58.8,378.7 59.3,378.5 59.8,378.3 60.3,378.2 60.8,378 61.3,377.8 61.8,377.6 62.3,377.4 62.8,377.2 63.3,377 63.8,376.8 64.3,376.6 64.8,376.3 65.3,376.1 65.8,375.9 66.3,375.6 66.8,375.4 67.3,375.1 67.8,374.8 68.3,374.6 68.8,374.3 69.3,374 69.8,373.7 70.3,373.4 70.8,373 71.3,372.7 71.8,372.4 72.3,372 72.8,371.7 73.3,371.3 73.8,371 74.3,370.6 74.8,370.2 75.3,369.8 75.8,369.4 76.3,369 76.8,368.6 77.3,368.2 77.8,367.8 78.3,367.3 78.8,366.9 79.3,366.4 79.8,366 80.3,365.5 80.8,365 81.3,364.5 81.8,364.1 82.3,363.6 82.8,363.1 83.3,362.5 83.8,362 84.3,361.5 84.8,361 85.3,360.4 85.8,359.9 86.3,359.4 86.8,358.8 87.3,358.3 87.8,357.7 88.3,357.1 88.8,356.6 89.3,356 89.8,355.4 90.3,354.9 90.8,354.3 91.3,353.7 91.8,353.1 92.3,352.5 92.8,351.9 93.3,351.4 93.8,350.8 94.3,350.2 94.8,349.6 95.3,349 95.8,348.4 96.3,347.9 96.8,347.3 97.3,346.7 97.8,346.1 98.3,345.6 98.8,345 99.3,344.4 99.8,343.9 100.3,343.3 100.8,342.8 101.3,342.2 101.8,341.7 102.3,341.2 102.8,340.7 103.3,340.2 103.8,339.7 104.3,339.2 104.8,338.7 105.3,338.3 105.8,337.8 106.3,337.4 106.8,336.9 107.3,336.5 107.8,336.1 108.3,335.7 108.8,335.3 109.3,334.9 109.8,334.6 110.3,334.3 110.8,333.9 111.3,333.6 111.8,333.3 112.3,333.1 112.8,332.8 113.3,332.6 113.8,332.3 114.3,332.1 114.8,331.9 115.3,331.8 115.8,331.6 116.3,331.5 116.8,331.3 117.3,331.2 117.8,331.1 118.3,331.1 118.8,331 119.3,331 119.8,331 120.3,331 120.8,331 121.3,331.1 121.8,331.1 122.3,331.2 122.8,331.3 123.3,331.4 123.8,331.6 124.3,331.7 124.8,331.9 125.3,332.1 125.8,332.2 126.3,332.5 126.8,332.7 127.3,332.9 127.8,333.2 128.3,333.5 128.8,333.8 129.3,334.1 129.8,334.4 130.3,334.7 130.8,335.1 131.3,335.4 131.8,335.8 132.3,336.2 132.8,336.6 133.3,337 133.8,337.4 134.3,337.8 134.8,338.3 135.3,338.7 135.8,339.2 136.3,339.7 136.8,340.2 137.3,340.6 137.8,341.1 138.3,341.6 138.8,342.2 139.3,342.7 139.8,343.2 140.3,343.7 140.8,344.3 141.3,344.8 141.8,345.3 142.3,345.9 142.8,346.5 143.3,347 143.8,347.6 144.3,348.1 144.8,348.7 145.3,349.3 145.8,349.8 146.3,350.4 146.8,351 147.3,351.5 147.8,352.1 148.3,352.7 148.8,353.2 149.3,353.8 149.8,354.4 150.3,354.9 150.8,355.5 151.3,356 151.8,356.6 152.3,357.1 152.8,357.7 153.3,358.2 153.8,358.8 154.3,359.3 154.8,359.8 155.3,360.3 155.8,360.9 156.3,361.4 156.8,361.9 157.3,362.4 157.8,362.9 158.3,363.4 158.8,363.8 159.3,364.3 159.8,364.8 160.3,365.3 160.8,365.7 161.3,366.2 161.8,366.6 162.3,367 162.8,367.5 163.3,367.9 163.8,368.3 164.3,368.7 164.8,369.1 165.3,369.5 165.8,369.9 166.3,370.3 166.8,370.6 167.3,371 167.8,371.3 168.3,371.7 168.8,372 169.3,372.4 169.8,372.7 170.3,373 170.8,373.3 171.3,373.6 171.8,373.9 172.3,374.2 172.8,374.5 173.3,374.7 173.8,375 174.3,375.3 174.8,375.5 175.3,375.8 175.8,376 176.3,376.2 176.8,376.5 177.3,376.7 177.8,376.9 178.3,377.1 178.8,377.3 179.3,377.5 179.8,377.7 180.3,377.9 180.8,378 181.3,378.2 181.8,378.4 182.3,378.5 182.8,378.7 183.3,378.8 183.8,379 184.3,379.1 184.8,379.3 185.3,379.4 185.8,379.5 186.3,379.6 186.8,379.7 187.3,379.9 187.8,380 188.3,380.1 188.8,380.2 189.3,380.3 189.8,380.4 190.3,380.5 190.8,380.5 191.3,380.6 191.8,380.7 192.3,380.8 192.8,380.9 193.3,380.9 193.8,381 194.3,381.1 194.8,381.1 195.3,381.2 195.8,381.2 196.3,381.3 196.8,381.4 197.3,381.4 197.8,381.5 198.3,381.5 198.8,381.5 199.3,381.6 199.8,381.6 200.3,381.7 200.8,381.7 201.3,381.7 201.8,381.8 202.3,381.8 202.8,381.8 203.3,381.9 203.8,381.9 204.3,381.9 204.8,381.9 205.3,382 205.8,382 206.3,382 206.8,382 207.3,382.1 207.8,382.1 208.3,382.1 208.8,382.1 209.3,382.1 209.8,382.1 210.3,382.2 210.8,382.2 211.3,382.2 211.8,382.2 212.3,382.2 212.8,382.2 213.3,382.2 213.8,382.2 214.3,382.3 214.8,382.3 215.3,382.3 215.8,382.3 216.3,382.3 216.8,382.3 217.3,382.3 217.8,382.3 218.3,382.3 218.8,382.3 219.3,382.3 219.8,382.3 220.3,382.3 220.8,382.4 221.3,382.4 221.8,382.4 222.3,382.4 222.8,382.4 223.3,382.4 223.8,382.4 224.3,382.4 224.8,382.4 225.3,382.4 225.8,382.4 226.3,382.4 226.8,382.4 227.3,382.4 227.8,382.4 228.3,382.4 228.8,382.4 229.3,382.4 229.8,382.4 230.3,382.4 230.8,382.4 231.3,382.4 231.8,382.4 232.3,382.4 232.8,382.4 233.3,382.4 233.8,382.4 234.3,382.4 234.8,382.4 235.3,382.4 235.8,382.4 236.3,382.4 236.8,382.4 237.3,382.5 237.8,382.5 237.8,382.5" stroke="#2e8a2e" stroke-width="1.3" stroke-opacity="0.88"/>
<polyline points="18.3,382.6 18.8,382.6 19.3,382.6 19.8,382.6 20.3,382.6 20.8,382.6 21.3,382.6 21.8,382.6 22.3,382.6 22.8,382.6 23.3,382.6 23.8,382.6 24.3,382.6 24.8,382.6 25.3,382.6 25.8,382.6 26.3,382.6 26.8,382.6 27.3,382.6 27.8,382.6 28.3,382.6 28.8,382.6 29.3,382.6 29.8,382.6 30.3,382.6 30.8,382.6 31.3,382.6 31.8,382.6 32.3,382.6 32.8,382.6 33.3,382.6 33.8,382.6 34.3,382.6 34.8,382.6 35.3,382.6 35.8,382.6 36.3,382.6 36.8,382.6 37.3,382.6 37.8,382.6 38.3,382.6 38.8,382.6 39.3,382.6 39.8,382.6 40.3,382.6 40.8,382.6 41.3,382.6 41.8,382.6 42.3,382.6 42.8,382.6 43.3,382.5 43.8,382.5 44.3,382.5 44.8,382.5 45.3,382.5 45.8,382.5 46.3,382.5 46.8,382.5 47.3,382.5 47.8,382.5 48.3,382.5 48.8,382.5 49.3,382.5 49.8,382.5 50.3,382.5 50.8,382.4 51.3,382.4 51.8,382.4 52.3,382.4 52.8,382.4 53.3,382.4 53.8,382.4 54.3,382.3 54.8,382.3 55.3,382.3 55.8,382.3 56.3,382.3 56.8,382.2 57.3,382.2 57.8,382.2 58.3,382.2 58.8,382.1 59.3,382.1 59.8,382.1 60.3,382 60.8,382 61.3,382 61.8,381.9 62.3,381.9 62.8,381.8 63.3,381.8 63.8,381.7 64.3,381.7 64.8,381.6 65.3,381.6 65.8,381.5 66.3,381.4 66.8,381.4 67.3,381.3 67.8,381.2 68.3,381.1 68.8,381 69.3,380.9 69.8,380.9 70.3,380.8 70.8,380.6 71.3,380.5 71.8,380.4 72.3,380.3 72.8,380.2 73.3,380 73.8,379.9 74.3,379.8 74.8,379.6 75.3,379.5 75.8,379.3 76.3,379.1 76.8,379 77.3,378.8 77.8,378.6 78.3,378.4 78.8,378.2 79.3,377.9 79.8,377.7 80.3,377.5 80.8,377.2 81.3,377 81.8,376.7 82.3,376.4 82.8,376.2 83.3,375.9 83.8,375.6 84.3,375.2 84.8,374.9 85.3,374.6 85.8,374.2 86.3,373.9 86.8,373.5 87.3,373.1 87.8,372.7 88.3,372.3 88.8,371.9 89.3,371.4 89.8,371 90.3,370.5 90.8,370 91.3,369.5 91.8,369 92.3,368.5 92.8,368 93.3,367.4 93.8,366.9 94.3,366.3 94.8,365.7 95.3,365.1 95.8,364.5 96.3,363.9 96.8,363.2 97.3,362.5 97.8,361.9 98.3,361.2 98.8,360.5 99.3,359.8 99.8,359 100.3,358.3 100.8,357.5 101.3,356.7 101.8,356 102.3,355.2 102.8,354.3 103.3,353.5 103.8,352.7 104.3,351.8 104.8,351 105.3,350.1 105.8,349.2 106.3,348.3 106.8,347.4 107.3,346.5 107.8,345.6 108.3,344.6 108.8,343.7 109.3,342.7 109.8,341.8 110.3,340.8 110.8,339.9 111.3,338.9 111.8,337.9 112.3,336.9 112.8,336 113.3,335 113.8,334 114.3,333 114.8,332 115.3,331 115.8,330.1 116.3,329.1 116.8,328.1 117.3,327.1 117.8,326.2 118.3,325.2 118.8,324.3 119.3,323.3 119.8,322.4 120.3,321.4 120.8,320.5 121.3,319.6 121.8,318.7 122.3,317.8 122.8,317 123.3,316.1 123.8,315.3 124.3,314.5 124.8,313.7 125.3,312.9 125.8,312.1 126.3,311.4 126.8,310.7 127.3,309.9 127.8,309.3 128.3,308.6 128.8,308 129.3,307.4 129.8,306.8 130.3,306.2 130.8,305.7 131.3,305.2 131.8,304.7 132.3,304.3 132.8,303.9 133.3,303.5 133.8,303.1 134.3,302.8 134.8,302.5 135.3,302.2 135.8,302 136.3,301.8 136.8,301.6 137.3,301.4 137.8,301.3 138.3,301.3 138.8,301.2 139.3,301.2 139.8,301.2 140.3,301.3 140.8,301.4 141.3,301.5 141.8,301.7 142.3,301.9 142.8,302.1 143.3,302.4 143.8,302.7 144.3,303.1 144.8,303.5 145.3,303.9 145.8,304.4 146.3,304.8 146.8,305.4 147.3,305.9 147.8,306.5 148.3,307.1 148.8,307.8 149.3,308.4 149.8,309.1 150.3,309.9 150.8,310.6 151.3,311.4 151.8,312.2 152.3,313 152.8,313.9 153.3,314.7 153.8,315.6 154.3,316.5 154.8,317.5 155.3,318.4 155.8,319.3 156.3,320.3 156.8,321.3 157.3,322.3 157.8,323.3 158.3,324.3 158.8,325.4 159.3,326.4 159.8,327.4 160.3,328.5 160.8,329.5 161.3,330.6 161.8,331.6 162.3,332.7 162.8,333.8 163.3,334.8 163.8,335.9 164.3,336.9 164.8,338 165.3,339 165.8,340.1 166.3,341.1 166.8,342.1 167.3,343.2 167.8,344.2 168.3,345.2 168.8,346.2 169.3,347.2 169.8,348.1 170.3,349.1 170.8,350.1 171.3,351 171.8,351.9 172.3,352.8 172.8,353.7 173.3,354.6 173.8,355.5 174.3,356.3 174.8,357.2 175.3,358 175.8,358.8 176.3,359.6 176.8,360.4 177.3,361.1 177.8,361.9 178.3,362.6 178.8,363.3 179.3,364 179.8,364.7 180.3,365.4 180.8,366 181.3,366.6 181.8,367.2 182.3,367.8 182.8,368.4 183.3,369 183.8,369.5 184.3,370 184.8,370.6 185.3,371.1 185.8,371.5 186.3,372 186.8,372.5 187.3,372.9 187.8,373.3 188.3,373.7 188.8,374.1 189.3,374.5 189.8,374.9 190.3,375.2 190.8,375.6 191.3,375.9 191.8,376.2 192.3,376.5 192.8,376.8 193.3,377.1 193.8,377.3 194.3,377.6 194.8,377.9 195.3,378.1 195.8,378.3 196.3,378.5 196.8,378.7 197.3,378.9 197.8,379.1 198.3,379.3 198.8,379.5 199.3,379.7 199.8,379.8 200.3,380 200.8,380.1 201.3,380.3 201.8,380.4 202.3,380.5 202.8,380.6 203.3,380.7 203.8,380.8 204.3,380.9 204.8,381 205.3,381.1 205.8,381.2 206.3,381.3 206.8,381.4 207.3,381.5 207.8,381.5 208.3,381.6 208.8,381.7 209.3,381.7 209.8,381.8 210.3,381.8 210.8,381.9 211.3,381.9 211.8,382 212.3,382 212.8,382 213.3,382.1 213.8,382.1 214.3,382.1 214.8,382.2 215.3,382.2 215.8,382.2 216.3,382.3 216.8,382.3 217.3,382.3 217.8,382.3 218.3,382.3 218.8,382.4 219.3,382.4 219.8,382.4 220.3,382.4 220.8,382.4 221.3,382.4 221.8,382.4 222.3,382.5 222.8,382.5 223.3,382.5 223.8,382.5 224.3,382.5 224.8,382.5 225.3,382.5 225.8,382.5 226.3,382.5 226.8,382.5 227.3,382.5 227.8,382.5 228.3,382.5 228.8,382.5 229.3,382.6 229.8,382.6 230.3,382.6 230.8,382.6 231.3,382.6 231.8,382.6 232.3,382.6 232.8,382.6 233.3,382.6 233.8,382.6 234.3,382.6 234.8,382.6 235.3,382.6 235.8,382.6 236.3,382.6 236.8,382.6 237.3,382.6 237.8,382.6 237.8,382.6" stroke="#d840d8" stroke-width="1.3" stroke-opacity="0.88"/>
</g>
<rect x="18.3" y="223.7" width="219.5" height="167.10000000000002" fill="none" stroke="#1a1a1a" stroke-width="1.4"/>
<path d="M201.2 390.8v-2.2M201.2 223.7v2.2M164.6 390.8v-3.2M164.6 223.7v3.2M128.1 390.8v-2.2M128.1 223.7v2.2M91.5 390.8v-3.2M91.5 223.7v3.2M54.9 390.8v-2.2M54.9 223.7v2.2" stroke="#1a1a1a" stroke-width="1.2" fill="none"/>
<text class="tk" x="237.8" y="402.6" font-size="10.0" fill="#2a2a2a" text-anchor="middle" font-family="Liberation Sans, Arial, sans-serif" stroke="#2a2a2a" stroke-width="0.18">100</text>
<text class="tk" x="164.6" y="402.6" font-size="10.0" fill="#2a2a2a" text-anchor="middle" font-family="Liberation Sans, Arial, sans-serif" stroke="#2a2a2a" stroke-width="0.18">102</text>
<text class="tk" x="91.5" y="402.6" font-size="10.0" fill="#2a2a2a" text-anchor="middle" font-family="Liberation Sans, Arial, sans-serif" stroke="#2a2a2a" stroke-width="0.18">104</text>
<text class="tk" x="18.3" y="402.6" font-size="10.0" fill="#2a2a2a" text-anchor="middle" font-family="Liberation Sans, Arial, sans-serif" stroke="#2a2a2a" stroke-width="0.18">106</text>
<text x="127" y="417.3" font-size="13" fill="#1a1a1a" stroke="#1a1a1a" stroke-width="0.3" text-anchor="middle" font-family="Liberation Sans, Arial, sans-serif">Binding Energy [eV]</text>
<text transform="translate(10.6,312.1) rotate(-90)" font-size="13.7" fill="#1a1a1a" stroke="#1a1a1a" stroke-width="0.3" text-anchor="middle" font-family="Liberation Sans, Arial, sans-serif">Intensity [a.u.]</text>
<text x="20.9" y="234.8" font-size="13.2" fill="#1a1a1a" font-family="Liberation Sans, Arial, sans-serif" stroke="#1a1a1a" stroke-width="0.18">(c)</text>
<text class="st" x="210.5" y="236.6" font-size="10.2" fill="#3c3ca8" font-family="Liberation Sans, Arial, sans-serif" stroke="#3c3ca8" stroke-width="0.18">Si 2p</text>
<g font-size="9.4" fill="#1a1a1a" class="st" font-family="Liberation Sans, Arial, sans-serif" stroke="#1a1a1a" stroke-width="0.18">
<text x="20" y="246.6" letter-spacing="0.1">Composition</text><text x="74.5" y="246.7" letter-spacing="0.8">BE/eV</text><text x="112.5" y="246.7">%</text>
<text x="43.7" y="260">Si<tspan font-size="6" dy="-3.5">3+</tspan></text><text x="75" y="260">102.7</text><text x="111.2" y="260">58</text>
<text x="43.7" y="273.4">Si<tspan font-size="6" dy="-3.5">4+</tspan></text><text x="75" y="273.4">103.2</text><text x="111.2" y="273.4">42</text>
<text x="187" y="265.2">Raw data</text><text x="187" y="277.2">Simulation</text>
</g>
<line x1="19.5" y1="256.3" x2="41.3" y2="256.3" stroke="#2e8a2e" stroke-width="1.4"/>
<line x1="19.5" y1="270.5" x2="41.3" y2="270.5" stroke="#d840d8" stroke-width="1.4"/>
<line x1="163.7" y1="261.8" x2="185" y2="261.8" stroke="#1c1c1c" stroke-width="1.4"/><circle cx="173.8" cy="261.8" r="1.6" fill="#444" stroke="#111" stroke-width="0.6"/>
<line x1="163.7" y1="273.8" x2="185" y2="273.8" stroke="#cc2a2a" stroke-width="1.5"/>
<line x1="140" y1="302.1" x2="178" y2="302.1" stroke="#d840d8" stroke-width="1.4"/><polygon points="182.5,302.1 175.5,299.4 175.5,304.8" fill="#d840d8"/>
<text class="st" x="185" y="306.5" font-size="9.4" fill="#c848c8" font-family="Liberation Sans, Arial, sans-serif" stroke="#c848c8" stroke-width="0.18">103.2 eV</text>
<line x1="123" y1="331.4" x2="78" y2="331.4" stroke="#2e8a2e" stroke-width="1.4"/><polygon points="74,331.4 81,328.7 81,334.1" fill="#2e8a2e"/>
<text class="st" x="33" y="330.5" font-size="9.4" fill="#2e8a2e" font-family="Liberation Sans, Arial, sans-serif" stroke="#2e8a2e" stroke-width="0.18">102.7 eV</text>
<defs><clipPath id="dclip"><rect x="291.25" y="223.7" width="219.35000000000002" height="167.10000000000002"/></clipPath></defs>
<g clip-path="url(#dclip)" fill="none" stroke-linejoin="round">
<line x1="291.25" y1="382.9" x2="510.6" y2="382.9" stroke="#3434d8" stroke-width="1.3"/>
<polyline points="291.2,381.4 293.4,381.7 295.6,382 297.8,382.1 300,381.9 302.2,381.6 304.4,381.6 306.6,381.4 308.8,381.1 311,381.3 313.2,381.7 315.4,381.5 317.6,381.3 319.8,381 322,381.3 324.2,381.1 326.3,381.2 328.5,381.3 330.7,380.4 332.9,381 335.1,380.6 337.3,380.7 339.5,380.5 341.7,381.1 343.9,380.9 346.1,380.7 348.3,380.2 350.5,379.8 352.7,379.9 354.9,379.8 357.1,379.4 359.2,379.1 361.4,378.2 363.6,377.9 365.8,376.4 368,375.2 370.2,372.6 372.4,369.9 374.6,366.3 376.8,362.6 379,357.5 381.2,351.1 383.4,344.2 385.6,336 387.8,327 390,317.2 392.2,306.4 394.3,295.9 396.5,285.5 398.7,275.3 400.9,266.2 403.1,258.1 405.3,251.9 407.5,247.9 409.7,245.8 411.9,247.9 414.1,252.1 416.3,259.6 418.5,268.5 420.7,279.2 422.9,290.6 425.1,302.5 427.2,313.6 429.4,324.7 431.6,335.5 433.8,344.2 436,351.5 438.2,358.2 440.4,363.6 442.6,368.9 444.8,371.5 447,373.8 449.2,375.5 451.4,376.4 453.6,378.2 455.8,379.3 458,379.7 460.1,379.9 462.3,379.9 464.5,380 466.7,380.5 468.9,380.5 471.1,380.4 473.3,381.3 475.5,380.6 477.7,380.8 479.9,380.3 482.1,381.6 484.3,381.1 486.5,381.2 488.7,381.4 490.9,381.1 493.1,381.2 495.2,381.5 497.4,381.2 499.6,381.5 501.8,381.8 504,381.7 506.2,382 508.4,381.9 510.6,382.1" stroke="#1c1c1c" stroke-width="1.1"/>
<polyline points="291.2,380.6 291.8,380.6 292.2,380.6 292.8,380.6 293.2,380.5 293.8,380.5 294.2,380.5 294.8,380.5 295.2,380.5 295.8,380.5 296.2,380.5 296.8,380.5 297.2,380.5 297.8,380.5 298.2,380.5 298.8,380.5 299.2,380.5 299.8,380.5 300.2,380.5 300.8,380.5 301.2,380.5 301.8,380.5 302.2,380.5 302.8,380.5 303.2,380.5 303.8,380.5 304.2,380.5 304.8,380.4 305.2,380.4 305.8,380.4 306.2,380.4 306.8,380.4 307.2,380.4 307.8,380.4 308.2,380.4 308.8,380.4 309.2,380.4 309.8,380.4 310.2,380.4 310.8,380.4 311.2,380.4 311.8,380.4 312.2,380.4 312.8,380.4 313.2,380.3 313.8,380.3 314.2,380.3 314.8,380.3 315.2,380.3 315.8,380.3 316.2,380.3 316.8,380.3 317.2,380.3 317.8,380.3 318.2,380.3 318.8,380.3 319.2,380.3 319.8,380.3 320.2,380.2 320.8,380.2 321.2,380.2 321.8,380.2 322.2,380.2 322.8,380.2 323.2,380.2 323.8,380.2 324.2,380.2 324.8,380.2 325.2,380.2 325.8,380.2 326.2,380.1 326.8,380.1 327.2,380.1 327.8,380.1 328.2,380.1 328.8,380.1 329.2,380.1 329.8,380.1 330.2,380.1 330.8,380 331.2,380 331.8,380 332.2,380 332.8,380 333.2,380 333.8,380 334.2,380 334.8,379.9 335.2,379.9 335.8,379.9 336.2,379.9 336.8,379.9 337.2,379.9 337.8,379.9 338.2,379.8 338.8,379.8 339.2,379.8 339.8,379.8 340.2,379.8 340.8,379.8 341.2,379.7 341.8,379.7 342.2,379.7 342.8,379.7 343.2,379.7 343.8,379.6 344.2,379.6 344.8,379.6 345.2,379.6 345.8,379.5 346.2,379.5 346.8,379.5 347.2,379.5 347.8,379.4 348.2,379.4 348.8,379.4 349.2,379.3 349.8,379.3 350.2,379.2 350.8,379.2 351.2,379.2 351.8,379.1 352.2,379.1 352.8,379 353.2,379 353.8,378.9 354.2,378.8 354.8,378.8 355.2,378.7 355.8,378.6 356.2,378.5 356.8,378.5 357.2,378.4 357.8,378.3 358.2,378.2 358.8,378.1 359.2,377.9 359.8,377.8 360.2,377.7 360.8,377.5 361.2,377.4 361.8,377.2 362.2,377 362.8,376.8 363.2,376.6 363.8,376.4 364.2,376.2 364.8,375.9 365.2,375.6 365.8,375.4 366.2,375 366.8,374.7 367.2,374.4 367.8,374 368.2,373.6 368.8,373.2 369.2,372.7 369.8,372.3 370.2,371.8 370.8,371.2 371.2,370.7 371.8,370.1 372.2,369.5 372.8,368.8 373.2,368.1 373.8,367.4 374.2,366.6 374.8,365.8 375.2,364.9 375.8,364 376.2,363 376.8,362 377.2,361 377.8,359.9 378.2,358.8 378.8,357.6 379.2,356.3 379.8,355 380.2,353.7 380.8,352.3 381.2,350.9 381.8,349.3 382.2,347.8 382.8,346.2 383.2,344.5 383.8,342.8 384.2,341 384.8,339.2 385.2,337.3 385.8,335.4 386.2,333.4 386.8,331.4 387.2,329.3 387.8,327.2 388.2,325 388.8,322.8 389.2,320.6 389.8,318.3 390.2,316 390.8,313.6 391.2,311.3 391.8,308.9 392.2,306.5 392.8,304 393.2,301.6 393.8,299.1 394.2,296.7 394.8,294.2 395.2,291.8 395.8,289.3 396.2,286.9 396.8,284.5 397.2,282.1 397.8,279.8 398.2,277.4 398.8,275.2 399.2,272.9 399.8,270.8 400.2,268.7 400.8,266.6 401.2,264.6 401.8,262.7 402.2,260.9 402.8,259.2 403.2,257.5 403.8,256 404.2,254.5 404.8,253.2 405.2,252 405.8,250.9 406.2,249.9 406.8,249 407.2,248.2 407.8,247.6 408.2,247.1 408.8,246.8 409.2,246.6 409.8,246.5 410.2,246.6 410.8,246.8 411.2,247.2 411.8,247.7 412.2,248.4 412.8,249.3 413.2,250.3 413.8,251.5 414.2,252.8 414.8,254.2 415.2,255.8 415.8,257.5 416.2,259.3 416.8,261.2 417.2,263.2 417.8,265.4 418.2,267.6 418.8,269.9 419.2,272.2 419.8,274.7 420.2,277.1 420.8,279.7 421.2,282.3 421.8,284.9 422.2,287.5 422.8,290.2 423.2,292.9 423.8,295.6 424.2,298.3 424.8,301 425.2,303.7 425.8,306.4 426.2,309 426.8,311.6 427.2,314.2 427.8,316.8 428.2,319.3 428.8,321.8 429.2,324.3 429.8,326.6 430.2,329 430.8,331.3 431.2,333.5 431.8,335.7 432.2,337.8 432.8,339.8 433.2,341.8 433.8,343.7 434.2,345.6 434.8,347.4 435.2,349.1 435.8,350.8 436.2,352.4 436.8,353.9 437.2,355.4 437.8,356.8 438.2,358.1 438.8,359.4 439.2,360.6 439.8,361.8 440.2,362.9 440.8,363.9 441.2,364.9 441.8,365.9 442.2,366.8 442.8,367.6 443.2,368.4 443.8,369.1 444.2,369.9 444.8,370.5 445.2,371.1 445.8,371.7 446.2,372.3 446.8,372.8 447.2,373.3 447.8,373.7 448.2,374.2 448.8,374.6 449.2,374.9 449.8,375.3 450.2,375.6 450.8,375.9 451.2,376.2 451.8,376.4 452.2,376.7 452.8,376.9 453.2,377.1 453.8,377.3 454.2,377.5 454.8,377.6 455.2,377.8 455.8,377.9 456.2,378.1 456.8,378.2 457.2,378.3 457.8,378.4 458.2,378.5 458.8,378.6 459.2,378.7 459.8,378.8 460.2,378.8 460.8,378.9 461.2,379 461.8,379 462.2,379.1 462.8,379.1 463.2,379.2 463.8,379.2 464.2,379.3 464.8,379.3 465.2,379.4 465.8,379.4 466.2,379.4 466.8,379.5 467.2,379.5 467.8,379.5 468.2,379.5 468.8,379.6 469.2,379.6 469.8,379.6 470.2,379.7 470.8,379.7 471.2,379.7 471.8,379.7 472.2,379.7 472.8,379.8 473.2,379.8 473.8,379.8 474.2,379.8 474.8,379.8 475.2,379.9 475.8,379.9 476.2,379.9 476.8,379.9 477.2,379.9 477.8,379.9 478.2,379.9 478.8,380 479.2,380 479.8,380 480.2,380 480.8,380 481.2,380 481.8,380 482.2,380.1 482.8,380.1 483.2,380.1 483.8,380.1 484.2,380.1 484.8,380.1 485.2,380.1 485.8,380.1 486.2,380.1 486.8,380.2 487.2,380.2 487.8,380.2 488.2,380.2 488.8,380.2 489.2,380.2 489.8,380.2 490.2,380.2 490.8,380.2 491.2,380.2 491.8,380.3 492.2,380.3 492.8,380.3 493.2,380.3 493.8,380.3 494.2,380.3 494.8,380.3 495.2,380.3 495.8,380.3 496.2,380.3 496.8,380.3 497.2,380.3 497.8,380.3 498.2,380.4 498.8,380.4 499.2,380.4 499.8,380.4 500.2,380.4 500.8,380.4 501.2,380.4 501.8,380.4 502.2,380.4 502.8,380.4 503.2,380.4 503.8,380.4 504.2,380.4 504.8,380.4 505.2,380.4 505.8,380.5 506.2,380.5 506.8,380.5 507.2,380.5 507.8,380.5 508.2,380.5 508.8,380.5 509.2,380.5 509.8,380.5 510.2,380.5 510.6,380.5" stroke="#c4242c" stroke-width="1.6" opacity="1"/>
<g fill="#5a2020" stroke="#141414" stroke-width="0.8">
<circle cx="291.2" cy="381.4" r="2.15"/>
<circle cx="293.4" cy="381.7" r="2.15"/>
<circle cx="295.6" cy="382" r="2.15"/>
<circle cx="297.8" cy="382.1" r="2.15"/>
<circle cx="300" cy="381.9" r="2.15"/>
<circle cx="302.2" cy="381.6" r="2.15"/>
<circle cx="304.4" cy="381.6" r="2.15"/>
<circle cx="306.6" cy="381.4" r="2.15"/>
<circle cx="308.8" cy="381.1" r="2.15"/>
<circle cx="311" cy="381.3" r="2.15"/>
<circle cx="313.2" cy="381.7" r="2.15"/>
<circle cx="315.4" cy="381.5" r="2.15"/>
<circle cx="317.6" cy="381.3" r="2.15"/>
<circle cx="319.8" cy="381" r="2.15"/>
<circle cx="322" cy="381.3" r="2.15"/>
<circle cx="324.2" cy="381.1" r="2.15"/>
<circle cx="326.3" cy="381.2" r="2.15"/>
<circle cx="328.5" cy="381.3" r="2.15"/>
<circle cx="330.7" cy="380.4" r="2.15"/>
<circle cx="332.9" cy="381" r="2.15"/>
<circle cx="335.1" cy="380.6" r="2.15"/>
<circle cx="337.3" cy="380.7" r="2.15"/>
<circle cx="339.5" cy="380.5" r="2.15"/>
<circle cx="341.7" cy="381.1" r="2.15"/>
<circle cx="343.9" cy="380.9" r="2.15"/>
<circle cx="346.1" cy="380.7" r="2.15"/>
<circle cx="348.3" cy="380.2" r="2.15"/>
<circle cx="350.5" cy="379.8" r="2.15"/>
<circle cx="352.7" cy="379.9" r="2.15"/>
<circle cx="354.9" cy="379.8" r="2.15"/>
<circle cx="357.1" cy="379.4" r="2.15"/>
<circle cx="359.2" cy="379.1" r="2.15"/>
<circle cx="361.4" cy="378.2" r="2.15"/>
<circle cx="363.6" cy="377.9" r="2.15"/>
<circle cx="365.8" cy="376.4" r="2.15"/>
<circle cx="368" cy="375.2" r="2.15"/>
<circle cx="370.2" cy="372.6" r="2.15"/>
<circle cx="372.4" cy="369.9" r="2.15"/>
<circle cx="374.6" cy="366.3" r="2.15"/>
<circle cx="376.8" cy="362.6" r="2.15"/>
<circle cx="379" cy="357.5" r="2.15"/>
<circle cx="381.2" cy="351.1" r="2.15"/>
<circle cx="383.4" cy="344.2" r="2.15"/>
<circle cx="385.6" cy="336" r="2.15"/>
<circle cx="387.8" cy="327" r="2.15"/>
<circle cx="390" cy="317.2" r="2.15"/>
<circle cx="392.2" cy="306.4" r="2.15"/>
<circle cx="394.3" cy="295.9" r="2.15"/>
<circle cx="396.5" cy="285.5" r="2.15"/>
<circle cx="398.7" cy="275.3" r="2.15"/>
<circle cx="400.9" cy="266.2" r="2.15"/>
<circle cx="403.1" cy="258.1" r="2.15"/>
<circle cx="405.3" cy="251.9" r="2.15"/>
<circle cx="407.5" cy="247.9" r="2.15"/>
<circle cx="409.7" cy="245.8" r="2.15"/>
<circle cx="411.9" cy="247.9" r="2.15"/>
<circle cx="414.1" cy="252.1" r="2.15"/>
<circle cx="416.3" cy="259.6" r="2.15"/>
<circle cx="418.5" cy="268.5" r="2.15"/>
<circle cx="420.7" cy="279.2" r="2.15"/>
<circle cx="422.9" cy="290.6" r="2.15"/>
<circle cx="425.1" cy="302.5" r="2.15"/>
<circle cx="427.2" cy="313.6" r="2.15"/>
<circle cx="429.4" cy="324.7" r="2.15"/>
<circle cx="431.6" cy="335.5" r="2.15"/>
<circle cx="433.8" cy="344.2" r="2.15"/>
<circle cx="436" cy="351.5" r="2.15"/>
<circle cx="438.2" cy="358.2" r="2.15"/>
<circle cx="440.4" cy="363.6" r="2.15"/>
<circle cx="442.6" cy="368.9" r="2.15"/>
<circle cx="444.8" cy="371.5" r="2.15"/>
<circle cx="447" cy="373.8" r="2.15"/>
<circle cx="449.2" cy="375.5" r="2.15"/>
<circle cx="451.4" cy="376.4" r="2.15"/>
<circle cx="453.6" cy="378.2" r="2.15"/>
<circle cx="455.8" cy="379.3" r="2.15"/>
<circle cx="458" cy="379.7" r="2.15"/>
<circle cx="460.1" cy="379.9" r="2.15"/>
<circle cx="462.3" cy="379.9" r="2.15"/>
<circle cx="464.5" cy="380" r="2.15"/>
<circle cx="466.7" cy="380.5" r="2.15"/>
<circle cx="468.9" cy="380.5" r="2.15"/>
<circle cx="471.1" cy="380.4" r="2.15"/>
<circle cx="473.3" cy="381.3" r="2.15"/>
<circle cx="475.5" cy="380.6" r="2.15"/>
<circle cx="477.7" cy="380.8" r="2.15"/>
<circle cx="479.9" cy="380.3" r="2.15"/>
<circle cx="482.1" cy="381.6" r="2.15"/>
<circle cx="484.3" cy="381.1" r="2.15"/>
<circle cx="486.5" cy="381.2" r="2.15"/>
<circle cx="488.7" cy="381.4" r="2.15"/>
<circle cx="490.9" cy="381.1" r="2.15"/>
<circle cx="493.1" cy="381.2" r="2.15"/>
<circle cx="495.2" cy="381.5" r="2.15"/>
<circle cx="497.4" cy="381.2" r="2.15"/>
<circle cx="499.6" cy="381.5" r="2.15"/>
<circle cx="501.8" cy="381.8" r="2.15"/>
<circle cx="504" cy="381.7" r="2.15"/>
<circle cx="506.2" cy="382" r="2.15"/>
<circle cx="508.4" cy="381.9" r="2.15"/>
<circle cx="510.6" cy="382.1" r="2.15"/>
</g>
<polyline points="291.2,381 291.8,381 292.2,381 292.8,381 293.2,381 293.8,381 294.2,381 294.8,381 295.2,381 295.8,381 296.2,381 296.8,381 297.2,381 297.8,381 298.2,381 298.8,381 299.2,381 299.8,381 300.2,381 300.8,381 301.2,381 301.8,381 302.2,381 302.8,381 303.2,381 303.8,381 304.2,381 304.8,381 305.2,381 305.8,381 306.2,381 306.8,381 307.2,381 307.8,381 308.2,381 308.8,381 309.2,381 309.8,381 310.2,381 310.8,381 311.2,381 311.8,381 312.2,381 312.8,381 313.2,381 313.8,381 314.2,381 314.8,381 315.2,381 315.8,381 316.2,381 316.8,381 317.2,381 317.8,381 318.2,381 318.8,381 319.2,381 319.8,381 320.2,381 320.8,381 321.2,381 321.8,381 322.2,381 322.8,381 323.2,381 323.8,381 324.2,381 324.8,381 325.2,381 325.8,381 326.2,381 326.8,381 327.2,381 327.8,381 328.2,381 328.8,381 329.2,381 329.8,381 330.2,381 330.8,381 331.2,381 331.8,381 332.2,381 332.8,381 333.2,381 333.8,381 334.2,381 334.8,381 335.2,381 335.8,381 336.2,381 336.8,381 337.2,381 337.8,381 338.2,381 338.8,381 339.2,381 339.8,381 340.2,381 340.8,381 341.2,381 341.8,381 342.2,381 342.8,380.9 343.2,380.9 343.8,380.9 344.2,380.9 344.8,380.9 345.2,380.9 345.8,380.9 346.2,380.9 346.8,380.9 347.2,380.8 347.8,380.8 348.2,380.8 348.8,380.8 349.2,380.8 349.8,380.7 350.2,380.7 350.8,380.7 351.2,380.6 351.8,380.6 352.2,380.5 352.8,380.5 353.2,380.4 353.8,380.4 354.2,380.3 354.8,380.2 355.2,380.2 355.8,380.1 356.2,380 356.8,379.9 357.2,379.8 357.8,379.7 358.2,379.5 358.8,379.4 359.2,379.2 359.8,379.1 360.2,378.9 360.8,378.7 361.2,378.5 361.8,378.3 362.2,378.1 362.8,377.8 363.2,377.5 363.8,377.3 364.2,377 364.8,376.7 365.2,376.3 365.8,376 366.2,375.6 366.8,375.2 367.2,374.8 367.8,374.3 368.2,373.8 368.8,373.4 369.2,372.8 369.8,372.3 370.2,371.7 370.8,371.1 371.2,370.5 371.8,369.9 372.2,369.2 372.8,368.5 373.2,367.8 373.8,367.1 374.2,366.3 374.8,365.6 375.2,364.7 375.8,363.9 376.2,363.1 376.8,362.2 377.2,361.3 377.8,360.4 378.2,359.5 378.8,358.5 379.2,357.6 379.8,356.6 380.2,355.7 380.8,354.7 381.2,353.7 381.8,352.7 382.2,351.7 382.8,350.8 383.2,349.8 383.8,348.8 384.2,347.8 384.8,346.9 385.2,346 385.8,345 386.2,344.1 386.8,343.3 387.2,342.4 387.8,341.6 388.2,340.8 388.8,340 389.2,339.3 389.8,338.6 390.2,338 390.8,337.3 391.2,336.8 391.8,336.3 392.2,335.8 392.8,335.4 393.2,335 393.8,334.7 394.2,334.4 394.8,334.2 395.2,334 395.8,333.9 396.2,333.9 396.8,333.9 397.2,334 397.8,334.2 398.2,334.4 398.8,334.7 399.2,335.1 399.8,335.5 400.2,336 400.8,336.5 401.2,337.2 401.8,337.8 402.2,338.6 402.8,339.4 403.2,340.2 403.8,341.1 404.2,342 404.8,342.9 405.2,343.9 405.8,344.9 406.2,346 406.8,347 407.2,348.1 407.8,349.2 408.2,350.3 408.8,351.4 409.2,352.5 409.8,353.7 410.2,354.8 410.8,355.9 411.2,357 411.8,358.1 412.2,359.1 412.8,360.2 413.2,361.2 413.8,362.2 414.2,363.2 414.8,364.1 415.2,365.1 415.8,366 416.2,366.8 416.8,367.7 417.2,368.5 417.8,369.3 418.2,370 418.8,370.7 419.2,371.4 419.8,372.1 420.2,372.7 420.8,373.3 421.2,373.8 421.8,374.4 422.2,374.9 422.8,375.3 423.2,375.8 423.8,376.2 424.2,376.6 424.8,376.9 425.2,377.3 425.8,377.6 426.2,377.9 426.8,378.2 427.2,378.4 427.8,378.7 428.2,378.9 428.8,379.1 429.2,379.3 429.8,379.4 430.2,379.6 430.8,379.7 431.2,379.8 431.8,380 432.2,380.1 432.8,380.2 433.2,380.3 433.8,380.3 434.2,380.4 434.8,380.5 435.2,380.5 435.8,380.6 436.2,380.6 436.8,380.7 437.2,380.7 437.8,380.7 438.2,380.8 438.8,380.8 439.2,380.8 439.8,380.8 440.2,380.9 440.8,380.9 441.2,380.9 441.8,380.9 442.2,380.9 442.8,380.9 443.2,380.9 443.8,380.9 444.2,381 444.8,381 445.2,381 445.8,381 446.2,381 446.8,381 447.2,381 447.8,381 448.2,381 448.8,381 449.2,381 449.8,381 450.2,381 450.8,381 451.2,381 451.8,381 452.2,381 452.8,381 453.2,381 453.8,381 454.2,381 454.8,381 455.2,381 455.8,381 456.2,381 456.8,381 457.2,381 457.8,381 458.2,381 458.8,381 459.2,381 459.8,381 460.2,381 460.8,381 461.2,381 461.8,381 462.2,381 462.8,381 463.2,381 463.8,381 464.2,381 464.8,381 465.2,381 465.8,381 466.2,381 466.8,381 467.2,381 467.8,381 468.2,381 468.8,381 469.2,381 469.8,381 470.2,381 470.8,381 471.2,381 471.8,381 472.2,381 472.8,381 473.2,381 473.8,381 474.2,381 474.8,381 475.2,381 475.8,381 476.2,381 476.8,381 477.2,381 477.8,381 478.2,381 478.8,381 479.2,381 479.8,381 480.2,381 480.8,381 481.2,381 481.8,381 482.2,381 482.8,381 483.2,381 483.8,381 484.2,381 484.8,381 485.2,381 485.8,381 486.2,381 486.8,381 487.2,381 487.8,381 488.2,381 488.8,381 489.2,381 489.8,381 490.2,381 490.8,381 491.2,381 491.8,381 492.2,381 492.8,381 493.2,381 493.8,381 494.2,381 494.8,381 495.2,381 495.8,381 496.2,381 496.8,381 497.2,381 497.8,381 498.2,381 498.8,381 499.2,381 499.8,381 500.2,381 500.8,381 501.2,381 501.8,381 502.2,381 502.8,381 503.2,381 503.8,381 504.2,381 504.8,381 505.2,381 505.8,381 506.2,381 506.8,381 507.2,381 507.8,381 508.2,381 508.8,381 509.2,381 509.8,381 510.2,381 510.6,381" stroke="#2a9090" stroke-width="1.3" stroke-opacity="0.88"/>
<polyline points="291.2,380.9 291.8,380.9 292.2,380.9 292.8,380.9 293.2,380.9 293.8,380.9 294.2,380.9 294.8,380.9 295.2,380.9 295.8,380.9 296.2,380.9 296.8,380.9 297.2,380.9 297.8,380.9 298.2,380.9 298.8,380.9 299.2,380.9 299.8,380.9 300.2,380.9 300.8,380.9 301.2,380.9 301.8,380.9 302.2,380.9 302.8,380.9 303.2,380.9 303.8,380.9 304.2,380.9 304.8,380.9 305.2,380.9 305.8,380.9 306.2,380.9 306.8,380.9 307.2,380.9 307.8,380.9 308.2,380.9 308.8,380.9 309.2,380.9 309.8,380.9 310.2,380.9 310.8,380.9 311.2,380.9 311.8,380.9 312.2,380.9 312.8,380.9 313.2,380.9 313.8,380.9 314.2,380.9 314.8,380.9 315.2,380.9 315.8,380.9 316.2,380.9 316.8,380.9 317.2,380.9 317.8,380.9 318.2,380.9 318.8,380.9 319.2,380.9 319.8,380.9 320.2,380.9 320.8,380.9 321.2,380.9 321.8,380.9 322.2,380.9 322.8,380.9 323.2,380.9 323.8,380.9 324.2,380.9 324.8,380.9 325.2,380.9 325.8,380.9 326.2,380.9 326.8,380.9 327.2,380.9 327.8,380.9 328.2,380.9 328.8,380.9 329.2,380.9 329.8,380.9 330.2,380.9 330.8,380.9 331.2,380.9 331.8,380.9 332.2,380.9 332.8,380.9 333.2,380.9 333.8,380.9 334.2,380.9 334.8,380.9 335.2,380.9 335.8,380.9 336.2,380.9 336.8,380.9 337.2,380.9 337.8,380.9 338.2,380.9 338.8,380.9 339.2,380.9 339.8,380.9 340.2,380.8 340.8,380.8 341.2,380.8 341.8,380.8 342.2,380.8 342.8,380.8 343.2,380.8 343.8,380.8 344.2,380.8 344.8,380.8 345.2,380.8 345.8,380.8 346.2,380.8 346.8,380.8 347.2,380.8 347.8,380.8 348.2,380.8 348.8,380.8 349.2,380.8 349.8,380.8 350.2,380.8 350.8,380.8 351.2,380.8 351.8,380.8 352.2,380.8 352.8,380.8 353.2,380.8 353.8,380.8 354.2,380.8 354.8,380.8 355.2,380.8 355.8,380.8 356.2,380.8 356.8,380.8 357.2,380.7 357.8,380.7 358.2,380.7 358.8,380.7 359.2,380.7 359.8,380.7 360.2,380.7 360.8,380.7 361.2,380.7 361.8,380.7 362.2,380.7 362.8,380.7 363.2,380.7 363.8,380.7 364.2,380.7 364.8,380.7 365.2,380.6 365.8,380.6 366.2,380.6 366.8,380.6 367.2,380.6 367.8,380.6 368.2,380.6 368.8,380.5 369.2,380.5 369.8,380.5 370.2,380.5 370.8,380.4 371.2,380.4 371.8,380.4 372.2,380.3 372.8,380.3 373.2,380.2 373.8,380.2 374.2,380.1 374.8,380.1 375.2,380 375.8,379.9 376.2,379.8 376.8,379.7 377.2,379.6 377.8,379.4 378.2,379.3 378.8,379.1 379.2,378.9 379.8,378.7 380.2,378.5 380.8,378.2 381.2,378 381.8,377.7 382.2,377.3 382.8,376.9 383.2,376.5 383.8,376.1 384.2,375.6 384.8,375.1 385.2,374.5 385.8,373.9 386.2,373.2 386.8,372.5 387.2,371.7 387.8,370.9 388.2,369.9 388.8,369 389.2,367.9 389.8,366.8 390.2,365.6 390.8,364.3 391.2,363 391.8,361.6 392.2,360 392.8,358.5 393.2,356.8 393.8,355 394.2,353.2 394.8,351.2 395.2,349.2 395.8,347.1 396.2,345 396.8,342.7 397.2,340.4 397.8,338 398.2,335.5 398.8,333 399.2,330.4 399.8,327.8 400.2,325.2 400.8,322.5 401.2,319.7 401.8,317 402.2,314.2 402.8,311.5 403.2,308.7 403.8,306 404.2,303.3 404.8,300.7 405.2,298.1 405.8,295.6 406.2,293.1 406.8,290.7 407.2,288.5 407.8,286.3 408.2,284.2 408.8,282.3 409.2,280.6 409.8,278.9 410.2,277.5 410.8,276.1 411.2,275 411.8,274.1 412.2,273.3 412.8,272.7 413.2,272.3 413.8,272.1 414.2,272.1 414.8,272.3 415.2,272.6 415.8,273 416.2,273.7 416.8,274.4 417.2,275.3 417.8,276.3 418.2,277.5 418.8,278.8 419.2,280.3 419.8,281.8 420.2,283.5 420.8,285.2 421.2,287.1 421.8,289 422.2,291.1 422.8,293.2 423.2,295.4 423.8,297.6 424.2,299.9 424.8,302.2 425.2,304.6 425.8,307 426.2,309.4 426.8,311.9 427.2,314.3 427.8,316.8 428.2,319.2 428.8,321.6 429.2,324 429.8,326.4 430.2,328.8 430.8,331.1 431.2,333.4 431.8,335.6 432.2,337.8 432.8,339.9 433.2,342 433.8,344 434.2,346 434.8,347.9 435.2,349.7 435.8,351.5 436.2,353.2 436.8,354.8 437.2,356.4 437.8,357.9 438.2,359.4 438.8,360.8 439.2,362.1 439.8,363.3 440.2,364.5 440.8,365.6 441.2,366.7 441.8,367.7 442.2,368.6 442.8,369.5 443.2,370.4 443.8,371.2 444.2,371.9 444.8,372.6 445.2,373.2 445.8,373.8 446.2,374.4 446.8,374.9 447.2,375.4 447.8,375.8 448.2,376.3 448.8,376.6 449.2,377 449.8,377.3 450.2,377.6 450.8,377.9 451.2,378.1 451.8,378.4 452.2,378.6 452.8,378.8 453.2,379 453.8,379.1 454.2,379.3 454.8,379.4 455.2,379.5 455.8,379.6 456.2,379.7 456.8,379.8 457.2,379.9 457.8,380 458.2,380.1 458.8,380.1 459.2,380.2 459.8,380.2 460.2,380.3 460.8,380.3 461.2,380.4 461.8,380.4 462.2,380.4 462.8,380.4 463.2,380.5 463.8,380.5 464.2,380.5 464.8,380.5 465.2,380.6 465.8,380.6 466.2,380.6 466.8,380.6 467.2,380.6 467.8,380.6 468.2,380.6 468.8,380.6 469.2,380.7 469.8,380.7 470.2,380.7 470.8,380.7 471.2,380.7 471.8,380.7 472.2,380.7 472.8,380.7 473.2,380.7 473.8,380.7 474.2,380.7 474.8,380.7 475.2,380.7 475.8,380.7 476.2,380.7 476.8,380.7 477.2,380.7 477.8,380.7 478.2,380.8 478.8,380.8 479.2,380.8 479.8,380.8 480.2,380.8 480.8,380.8 481.2,380.8 481.8,380.8 482.2,380.8 482.8,380.8 483.2,380.8 483.8,380.8 484.2,380.8 484.8,380.8 485.2,380.8 485.8,380.8 486.2,380.8 486.8,380.8 487.2,380.8 487.8,380.8 488.2,380.8 488.8,380.8 489.2,380.8 489.8,380.8 490.2,380.8 490.8,380.8 491.2,380.8 491.8,380.8 492.2,380.8 492.8,380.8 493.2,380.8 493.8,380.8 494.2,380.8 494.8,380.8 495.2,380.8 495.8,380.8 496.2,380.8 496.8,380.8 497.2,380.8 497.8,380.9 498.2,380.9 498.8,380.9 499.2,380.9 499.8,380.9 500.2,380.9 500.8,380.9 501.2,380.9 501.8,380.9 502.2,380.9 502.8,380.9 503.2,380.9 503.8,380.9 504.2,380.9 504.8,380.9 505.2,380.9 505.8,380.9 506.2,380.9 506.8,380.9 507.2,380.9 507.8,380.9 508.2,380.9 508.8,380.9 509.2,380.9 509.8,380.9 510.2,380.9 510.6,380.9" stroke="#d840d8" stroke-width="1.3" stroke-opacity="0.88"/>
</g>
<rect x="291.25" y="223.7" width="219.35000000000002" height="167.10000000000002" fill="none" stroke="#1a1a1a" stroke-width="1.4"/>
<path d="M488.7 390.8v2.8M488.7 223.7v2.2M466.7 390.8v3.8M466.7 223.7v3.2M444.8 390.8v2.8M444.8 223.7v2.2M422.9 390.8v3.8M422.9 223.7v3.2M400.9 390.8v2.8M400.9 223.7v2.2M379 390.8v3.8M379 223.7v3.2M357.1 390.8v2.8M357.1 223.7v2.2M335.1 390.8v3.8M335.1 223.7v3.2M313.2 390.8v2.8M313.2 223.7v2.2" stroke="#1a1a1a" stroke-width="1.2" fill="none"/>
<text class="tk" x="510.6" y="404.6" font-size="10.0" fill="#2a2a2a" text-anchor="middle" font-family="Liberation Sans, Arial, sans-serif" stroke="#2a2a2a" stroke-width="0.18">528</text>
<text class="tk" x="466.7" y="404.6" font-size="10.0" fill="#2a2a2a" text-anchor="middle" font-family="Liberation Sans, Arial, sans-serif" stroke="#2a2a2a" stroke-width="0.18">530</text>
<text class="tk" x="422.9" y="404.6" font-size="10.0" fill="#2a2a2a" text-anchor="middle" font-family="Liberation Sans, Arial, sans-serif" stroke="#2a2a2a" stroke-width="0.18">532</text>
<text class="tk" x="379" y="404.6" font-size="10.0" fill="#2a2a2a" text-anchor="middle" font-family="Liberation Sans, Arial, sans-serif" stroke="#2a2a2a" stroke-width="0.18">534</text>
<text class="tk" x="335.1" y="404.6" font-size="10.0" fill="#2a2a2a" text-anchor="middle" font-family="Liberation Sans, Arial, sans-serif" stroke="#2a2a2a" stroke-width="0.18">536</text>
<text class="tk" x="291.2" y="404.6" font-size="10.0" fill="#2a2a2a" text-anchor="middle" font-family="Liberation Sans, Arial, sans-serif" stroke="#2a2a2a" stroke-width="0.18">538</text>
<text x="395" y="418.4" font-size="13" fill="#1a1a1a" stroke="#1a1a1a" stroke-width="0.3" text-anchor="middle" font-family="Liberation Sans, Arial, sans-serif">Binding Energy [eV]</text>
<text transform="translate(281.4,318) rotate(-90)" font-size="13.7" fill="#1a1a1a" stroke="#1a1a1a" stroke-width="0.3" text-anchor="middle" font-family="Liberation Sans, Arial, sans-serif">Intensity [a.u.]</text>
<text x="293.5" y="237.2" font-size="13" fill="#1a1a1a" font-family="Liberation Sans, Arial, sans-serif" stroke="#1a1a1a" stroke-width="0.18">(d)</text>
<text class="st" x="485.5" y="236.2" font-size="10.2" fill="#3c3ca8" font-family="Liberation Sans, Arial, sans-serif" stroke="#3c3ca8" stroke-width="0.18">O1s</text>
<g font-size="9.4" fill="#1a1a1a" class="st" font-family="Liberation Sans, Arial, sans-serif" stroke="#1a1a1a" stroke-width="0.18">
<text x="294.5" y="251">Composition</text><text x="348.7" y="251" letter-spacing="0.35">BE/eV</text><text x="386.2" y="251">%</text>
<text x="317.5" y="263.1">VO<tspan font-size="6" dy="2.5">s</tspan></text><text x="349.3" y="263.1">533.2</text><text x="386.2" y="263.1">30</text>
<text x="317.5" y="276.3">O<tspan font-size="6" dy="-3.5">2-</tspan></text><text x="349.3" y="276.3">532.4</text><text x="386.2" y="276.3">70</text>
<text x="463.8" y="317.5">Raw data</text><text x="463.8" y="329.5">Simulation</text>
</g>
<line x1="294.5" y1="260.5" x2="315" y2="260.5" stroke="#2a9090" stroke-width="1.4"/>
<line x1="294.5" y1="274.3" x2="315" y2="274.3" stroke="#d840d8" stroke-width="1.4"/>
<line x1="439.2" y1="314" x2="460.4" y2="314" stroke="#1c1c1c" stroke-width="1.4"/><circle cx="449.8" cy="314" r="1.9" fill="#444" stroke="#111" stroke-width="0.6"/>
<line x1="439.2" y1="326" x2="460.4" y2="326" stroke="#cc2a2a" stroke-width="1.5"/>
<line x1="414" y1="272.2" x2="444" y2="272.2" stroke="#d840d8" stroke-width="1.4"/><polygon points="448.5,272.2 441.5,269.5 441.5,274.9" fill="#d840d8"/>
<text class="st" x="452" y="275.6" font-size="9.4" fill="#c848c8" font-family="Liberation Sans, Arial, sans-serif" stroke="#c848c8" stroke-width="0.18">532.4 eV</text>
<line x1="396.5" y1="335" x2="367.5" y2="335" stroke="#2a9090" stroke-width="1.4"/><polygon points="363.5,335 370.5,332.3 370.5,337.7" fill="#2a9090"/>
<text class="st" x="317.5" y="330.4" font-size="9.4" fill="#2a8c8c" font-family="Liberation Sans, Arial, sans-serif" stroke="#2a8c8c" stroke-width="0.18">533.2 eV</text>
</svg></body></html>
